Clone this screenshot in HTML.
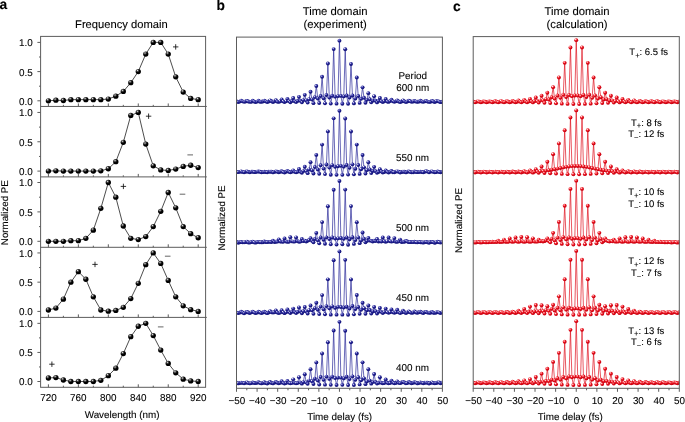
<!DOCTYPE html>
<html><head><meta charset="utf-8"><style>
html,body{margin:0;padding:0;background:#fff;width:685px;height:422px;overflow:hidden}
svg{display:block;font-family:"Liberation Sans", sans-serif;fill:#000;will-change:transform;text-rendering:geometricPrecision}
text{-webkit-font-smoothing:antialiased;stroke:#000;stroke-width:0.1px;paint-order:stroke}
</style></head><body>
<svg width="685" height="422" viewBox="0 0 685 422">
<rect width="685" height="422" fill="#fff"/>
<defs>
<radialGradient id="gk" cx="0.38" cy="0.32" r="0.62" fx="0.35" fy="0.28">
 <stop offset="0" stop-color="#e6e6e6"/><stop offset="0.28" stop-color="#505050"/><stop offset="0.6" stop-color="#000"/><stop offset="1" stop-color="#000"/>
</radialGradient>
<radialGradient id="gb" cx="0.4" cy="0.35" r="0.6" fx="0.35" fy="0.3">
 <stop offset="0" stop-color="#ffffff"/><stop offset="0.25" stop-color="#6e6ec8"/><stop offset="0.55" stop-color="#20208f"/><stop offset="1" stop-color="#14147a"/>
</radialGradient>
<radialGradient id="gr" cx="0.4" cy="0.35" r="0.6" fx="0.35" fy="0.3">
 <stop offset="0" stop-color="#ffffff"/><stop offset="0.25" stop-color="#ff7a80"/><stop offset="0.55" stop-color="#e4101c"/><stop offset="1" stop-color="#c80010"/>
</radialGradient>
<clipPath id="cb"><rect x="236.5" y="37.1" width="205.9" height="351.2"/></clipPath>
<clipPath id="cc"><rect x="473.2" y="36.6" width="206.1" height="351.7"/></clipPath>
</defs><text x="-0.6" y="8.9" font-size="13.8" text-anchor="start" font-weight="bold" >a</text><text x="216.6" y="9.6" font-size="13.8" text-anchor="start" font-weight="bold" >b</text><text x="453" y="10.8" font-size="13.8" text-anchor="start" font-weight="bold" >c</text><text x="121.4" y="28.2" font-size="11.2" text-anchor="middle" font-weight="normal" >Frequency domain</text><text x="335.1" y="15.1" font-size="11.3" text-anchor="middle" font-weight="normal" >Time domain</text><text x="335.1" y="27.7" font-size="11.3" text-anchor="middle" font-weight="normal" >(experiment)</text><text x="577" y="15.1" font-size="11.3" text-anchor="middle" font-weight="normal" >Time domain</text><text x="577" y="27.7" font-size="11.3" text-anchor="middle" font-weight="normal" >(calculation)</text><text x="32.8" y="46.3" font-size="9.9" text-anchor="end" font-weight="normal" >1.0</text><text x="32.8" y="75.5" font-size="9.9" text-anchor="end" font-weight="normal" >0.5</text><text x="32.8" y="104.7" font-size="9.9" text-anchor="end" font-weight="normal" >0.0</text><polyline fill="none" stroke="#111" stroke-width="0.75" points="48.4,100.8 55.89,100.22 63.38,100.51 70.87,99.63 78.36,99.63 85.85,99.63 93.34,99.63 100.83,99.63 108.32,99.05 115.81,96.13 123.3,91.46 130.79,82.7 138.28,71.6 145.77,54.08 153.26,42.4 160.75,42.4 168.24,54.08 175.73,76.86 183.22,92.04 190.71,98.46 198.2,99.63"/><circle cx="48.4" cy="100.8" r="2.65" fill="url(#gk)"/><circle cx="55.89" cy="100.22" r="2.65" fill="url(#gk)"/><circle cx="63.38" cy="100.51" r="2.65" fill="url(#gk)"/><circle cx="70.87" cy="99.63" r="2.65" fill="url(#gk)"/><circle cx="78.36" cy="99.63" r="2.65" fill="url(#gk)"/><circle cx="85.85" cy="99.63" r="2.65" fill="url(#gk)"/><circle cx="93.34" cy="99.63" r="2.65" fill="url(#gk)"/><circle cx="100.83" cy="99.63" r="2.65" fill="url(#gk)"/><circle cx="108.32" cy="99.05" r="2.65" fill="url(#gk)"/><circle cx="115.81" cy="96.13" r="2.65" fill="url(#gk)"/><circle cx="123.3" cy="91.46" r="2.65" fill="url(#gk)"/><circle cx="130.79" cy="82.7" r="2.65" fill="url(#gk)"/><circle cx="138.28" cy="71.6" r="2.65" fill="url(#gk)"/><circle cx="145.77" cy="54.08" r="2.65" fill="url(#gk)"/><circle cx="153.26" cy="42.4" r="2.65" fill="url(#gk)"/><circle cx="160.75" cy="42.4" r="2.65" fill="url(#gk)"/><circle cx="168.24" cy="54.08" r="2.65" fill="url(#gk)"/><circle cx="175.73" cy="76.86" r="2.65" fill="url(#gk)"/><circle cx="183.22" cy="92.04" r="2.65" fill="url(#gk)"/><circle cx="190.71" cy="98.46" r="2.65" fill="url(#gk)"/><circle cx="198.2" cy="99.63" r="2.65" fill="url(#gk)"/><text x="32.8" y="116.35" font-size="9.9" text-anchor="end" font-weight="normal" >1.0</text><text x="32.8" y="145.68" font-size="9.9" text-anchor="end" font-weight="normal" >0.5</text><text x="32.8" y="175" font-size="9.9" text-anchor="end" font-weight="normal" >0.0</text><polyline fill="none" stroke="#111" stroke-width="0.75" points="48.4,171.1 55.89,170.81 63.38,171.1 70.87,171.1 78.36,171.1 85.85,171.1 93.34,171.1 100.83,170.81 108.32,168.75 115.81,161.72 123.3,142.36 130.79,115.38 138.28,112.45 145.77,144.12 153.26,165.82 160.75,169.93 168.24,170.51 175.73,169.05 183.22,166.41 190.71,165.23 198.2,167.58"/><circle cx="48.4" cy="171.1" r="2.65" fill="url(#gk)"/><circle cx="55.89" cy="170.81" r="2.65" fill="url(#gk)"/><circle cx="63.38" cy="171.1" r="2.65" fill="url(#gk)"/><circle cx="70.87" cy="171.1" r="2.65" fill="url(#gk)"/><circle cx="78.36" cy="171.1" r="2.65" fill="url(#gk)"/><circle cx="85.85" cy="171.1" r="2.65" fill="url(#gk)"/><circle cx="93.34" cy="171.1" r="2.65" fill="url(#gk)"/><circle cx="100.83" cy="170.81" r="2.65" fill="url(#gk)"/><circle cx="108.32" cy="168.75" r="2.65" fill="url(#gk)"/><circle cx="115.81" cy="161.72" r="2.65" fill="url(#gk)"/><circle cx="123.3" cy="142.36" r="2.65" fill="url(#gk)"/><circle cx="130.79" cy="115.38" r="2.65" fill="url(#gk)"/><circle cx="138.28" cy="112.45" r="2.65" fill="url(#gk)"/><circle cx="145.77" cy="144.12" r="2.65" fill="url(#gk)"/><circle cx="153.26" cy="165.82" r="2.65" fill="url(#gk)"/><circle cx="160.75" cy="169.93" r="2.65" fill="url(#gk)"/><circle cx="168.24" cy="170.51" r="2.65" fill="url(#gk)"/><circle cx="175.73" cy="169.05" r="2.65" fill="url(#gk)"/><circle cx="183.22" cy="166.41" r="2.65" fill="url(#gk)"/><circle cx="190.71" cy="165.23" r="2.65" fill="url(#gk)"/><circle cx="198.2" cy="167.58" r="2.65" fill="url(#gk)"/><text x="32.8" y="186.4" font-size="9.9" text-anchor="end" font-weight="normal" >1.0</text><text x="32.8" y="215.8" font-size="9.9" text-anchor="end" font-weight="normal" >0.5</text><text x="32.8" y="245.2" font-size="9.9" text-anchor="end" font-weight="normal" >0.0</text><polyline fill="none" stroke="#111" stroke-width="0.75" points="48.4,241.3 55.89,241.3 63.38,241.3 70.87,240.71 78.36,240.71 85.85,238.36 93.34,230.13 100.83,208.37 108.32,182.5 115.81,197.2 123.3,226.01 130.79,238.36 138.28,239.54 145.77,236.6 153.26,226.6 160.75,211.31 168.24,192.5 175.73,207.78 183.22,226.6 190.71,233.66 198.2,237.77"/><circle cx="48.4" cy="241.3" r="2.65" fill="url(#gk)"/><circle cx="55.89" cy="241.3" r="2.65" fill="url(#gk)"/><circle cx="63.38" cy="241.3" r="2.65" fill="url(#gk)"/><circle cx="70.87" cy="240.71" r="2.65" fill="url(#gk)"/><circle cx="78.36" cy="240.71" r="2.65" fill="url(#gk)"/><circle cx="85.85" cy="238.36" r="2.65" fill="url(#gk)"/><circle cx="93.34" cy="230.13" r="2.65" fill="url(#gk)"/><circle cx="100.83" cy="208.37" r="2.65" fill="url(#gk)"/><circle cx="108.32" cy="182.5" r="2.65" fill="url(#gk)"/><circle cx="115.81" cy="197.2" r="2.65" fill="url(#gk)"/><circle cx="123.3" cy="226.01" r="2.65" fill="url(#gk)"/><circle cx="130.79" cy="238.36" r="2.65" fill="url(#gk)"/><circle cx="138.28" cy="239.54" r="2.65" fill="url(#gk)"/><circle cx="145.77" cy="236.6" r="2.65" fill="url(#gk)"/><circle cx="153.26" cy="226.6" r="2.65" fill="url(#gk)"/><circle cx="160.75" cy="211.31" r="2.65" fill="url(#gk)"/><circle cx="168.24" cy="192.5" r="2.65" fill="url(#gk)"/><circle cx="175.73" cy="207.78" r="2.65" fill="url(#gk)"/><circle cx="183.22" cy="226.6" r="2.65" fill="url(#gk)"/><circle cx="190.71" cy="233.66" r="2.65" fill="url(#gk)"/><circle cx="198.2" cy="237.77" r="2.65" fill="url(#gk)"/><text x="32.8" y="256.85" font-size="9.9" text-anchor="end" font-weight="normal" >1.0</text><text x="32.8" y="286.07" font-size="9.9" text-anchor="end" font-weight="normal" >0.5</text><text x="32.8" y="315.3" font-size="9.9" text-anchor="end" font-weight="normal" >0.0</text><polyline fill="none" stroke="#111" stroke-width="0.75" points="48.4,310 55.89,308.07 63.38,299.13 70.87,282.17 78.36,271.65 85.85,279.25 93.34,296.79 100.83,310 108.32,311.22 115.81,310.46 123.3,307.31 130.79,298.54 138.28,283.34 145.77,264.64 153.26,252.95 160.75,263.47 168.24,280.42 175.73,296.79 183.22,305.85 190.71,309.65 198.2,311.4"/><circle cx="48.4" cy="310" r="2.65" fill="url(#gk)"/><circle cx="55.89" cy="308.07" r="2.65" fill="url(#gk)"/><circle cx="63.38" cy="299.13" r="2.65" fill="url(#gk)"/><circle cx="70.87" cy="282.17" r="2.65" fill="url(#gk)"/><circle cx="78.36" cy="271.65" r="2.65" fill="url(#gk)"/><circle cx="85.85" cy="279.25" r="2.65" fill="url(#gk)"/><circle cx="93.34" cy="296.79" r="2.65" fill="url(#gk)"/><circle cx="100.83" cy="310" r="2.65" fill="url(#gk)"/><circle cx="108.32" cy="311.22" r="2.65" fill="url(#gk)"/><circle cx="115.81" cy="310.46" r="2.65" fill="url(#gk)"/><circle cx="123.3" cy="307.31" r="2.65" fill="url(#gk)"/><circle cx="130.79" cy="298.54" r="2.65" fill="url(#gk)"/><circle cx="138.28" cy="283.34" r="2.65" fill="url(#gk)"/><circle cx="145.77" cy="264.64" r="2.65" fill="url(#gk)"/><circle cx="153.26" cy="252.95" r="2.65" fill="url(#gk)"/><circle cx="160.75" cy="263.47" r="2.65" fill="url(#gk)"/><circle cx="168.24" cy="280.42" r="2.65" fill="url(#gk)"/><circle cx="175.73" cy="296.79" r="2.65" fill="url(#gk)"/><circle cx="183.22" cy="305.85" r="2.65" fill="url(#gk)"/><circle cx="190.71" cy="309.65" r="2.65" fill="url(#gk)"/><circle cx="198.2" cy="311.4" r="2.65" fill="url(#gk)"/><text x="32.8" y="327.25" font-size="9.9" text-anchor="end" font-weight="normal" >1.0</text><text x="32.8" y="356.32" font-size="9.9" text-anchor="end" font-weight="normal" >0.5</text><text x="32.8" y="385.4" font-size="9.9" text-anchor="end" font-weight="normal" >0.0</text><polyline fill="none" stroke="#111" stroke-width="0.75" points="48.4,378.01 55.89,377.55 63.38,379.99 70.87,381.5 78.36,381.5 85.85,381.5 93.34,381.5 100.83,380.34 108.32,375.69 115.81,368.13 123.3,353.59 130.79,336.72 138.28,326.26 145.77,323.35 153.26,335.56 160.75,350.1 168.24,363.47 175.73,372.78 183.22,379.17 190.71,380.92 198.2,381.5"/><circle cx="48.4" cy="378.01" r="2.65" fill="url(#gk)"/><circle cx="55.89" cy="377.55" r="2.65" fill="url(#gk)"/><circle cx="63.38" cy="379.99" r="2.65" fill="url(#gk)"/><circle cx="70.87" cy="381.5" r="2.65" fill="url(#gk)"/><circle cx="78.36" cy="381.5" r="2.65" fill="url(#gk)"/><circle cx="85.85" cy="381.5" r="2.65" fill="url(#gk)"/><circle cx="93.34" cy="381.5" r="2.65" fill="url(#gk)"/><circle cx="100.83" cy="380.34" r="2.65" fill="url(#gk)"/><circle cx="108.32" cy="375.69" r="2.65" fill="url(#gk)"/><circle cx="115.81" cy="368.13" r="2.65" fill="url(#gk)"/><circle cx="123.3" cy="353.59" r="2.65" fill="url(#gk)"/><circle cx="130.79" cy="336.72" r="2.65" fill="url(#gk)"/><circle cx="138.28" cy="326.26" r="2.65" fill="url(#gk)"/><circle cx="145.77" cy="323.35" r="2.65" fill="url(#gk)"/><circle cx="153.26" cy="335.56" r="2.65" fill="url(#gk)"/><circle cx="160.75" cy="350.1" r="2.65" fill="url(#gk)"/><circle cx="168.24" cy="363.47" r="2.65" fill="url(#gk)"/><circle cx="175.73" cy="372.78" r="2.65" fill="url(#gk)"/><circle cx="183.22" cy="379.17" r="2.65" fill="url(#gk)"/><circle cx="190.71" cy="380.92" r="2.65" fill="url(#gk)"/><circle cx="198.2" cy="381.5" r="2.65" fill="url(#gk)"/><text x="48.4" y="400.55" font-size="9.9" text-anchor="middle" font-weight="normal" >720</text><text x="78.36" y="400.55" font-size="9.9" text-anchor="middle" font-weight="normal" >760</text><text x="108.32" y="400.55" font-size="9.9" text-anchor="middle" font-weight="normal" >800</text><text x="138.28" y="400.55" font-size="9.9" text-anchor="middle" font-weight="normal" >840</text><text x="168.24" y="400.55" font-size="9.9" text-anchor="middle" font-weight="normal" >880</text><text x="198.2" y="400.55" font-size="9.9" text-anchor="middle" font-weight="normal" >920</text><text x="122.1" y="417.9" font-size="9.9" text-anchor="middle" font-weight="normal" >Wavelength (nm)</text><text x="0" y="0" font-size="9.75" text-anchor="middle" font-weight="normal" transform="translate(7.9 212.65) rotate(-90)">Normalized PE</text><g stroke="#5c5c5c" stroke-width="1" fill="none"><path d="M37.4 42.4H40.6"/><path d="M39 57H40.6"/><path d="M37.4 71.6H40.6"/><path d="M39 86.2H40.6"/><path d="M37.4 100.8H40.6"/><path d="M48.4 106.45V103.45"/><path d="M63.38 106.45V104.85"/><path d="M78.36 106.45V103.45"/><path d="M93.34 106.45V104.85"/><path d="M108.32 106.45V103.45"/><path d="M123.3 106.45V104.85"/><path d="M138.28 106.45V103.45"/><path d="M153.26 106.45V104.85"/><path d="M168.24 106.45V103.45"/><path d="M183.22 106.45V104.85"/><path d="M198.2 106.45V103.45"/><path d="M173 46.9H178.4M175.7 44.2V49.6" stroke="#111" stroke-width="0.85"/><path d="M37.4 112.45H40.6"/><path d="M39 127.11H40.6"/><path d="M37.4 141.78H40.6"/><path d="M39 156.44H40.6"/><path d="M37.4 171.1H40.6"/><path d="M48.4 176.9V173.9"/><path d="M63.38 176.9V175.3"/><path d="M78.36 176.9V173.9"/><path d="M93.34 176.9V175.3"/><path d="M108.32 176.9V173.9"/><path d="M123.3 176.9V175.3"/><path d="M138.28 176.9V173.9"/><path d="M153.26 176.9V175.3"/><path d="M168.24 176.9V173.9"/><path d="M183.22 176.9V175.3"/><path d="M198.2 176.9V173.9"/><path d="M145.9 116.2H151.3M148.6 113.5V118.9" stroke="#111" stroke-width="0.85"/><path d="M187.4 154.9H193" stroke="#555" stroke-width="0.9"/><path d="M37.4 182.5H40.6"/><path d="M39 197.2H40.6"/><path d="M37.4 211.9H40.6"/><path d="M39 226.6H40.6"/><path d="M37.4 241.3H40.6"/><path d="M48.4 247.3V244.3"/><path d="M63.38 247.3V245.7"/><path d="M78.36 247.3V244.3"/><path d="M93.34 247.3V245.7"/><path d="M108.32 247.3V244.3"/><path d="M123.3 247.3V245.7"/><path d="M138.28 247.3V244.3"/><path d="M153.26 247.3V245.7"/><path d="M168.24 247.3V244.3"/><path d="M183.22 247.3V245.7"/><path d="M198.2 247.3V244.3"/><path d="M120.7 186.4H126.1M123.4 183.7V189.1" stroke="#111" stroke-width="0.85"/><path d="M179.7 194.2H185.3" stroke="#555" stroke-width="0.9"/><path d="M37.4 252.95H40.6"/><path d="M39 267.56H40.6"/><path d="M37.4 282.17H40.6"/><path d="M39 296.79H40.6"/><path d="M37.4 311.4H40.6"/><path d="M48.4 317.4V314.4"/><path d="M63.38 317.4V315.8"/><path d="M78.36 317.4V314.4"/><path d="M93.34 317.4V315.8"/><path d="M108.32 317.4V314.4"/><path d="M123.3 317.4V315.8"/><path d="M138.28 317.4V314.4"/><path d="M153.26 317.4V315.8"/><path d="M168.24 317.4V314.4"/><path d="M183.22 317.4V315.8"/><path d="M198.2 317.4V314.4"/><path d="M92.3 264.4H97.7M95 261.7V267.1" stroke="#111" stroke-width="0.85"/><path d="M164.9 256.2H170.5" stroke="#555" stroke-width="0.9"/><path d="M37.4 323.35H40.6"/><path d="M39 337.89H40.6"/><path d="M37.4 352.43H40.6"/><path d="M39 366.96H40.6"/><path d="M37.4 381.5H40.6"/><path d="M48.4 387.3V384.3"/><path d="M63.38 387.3V385.7"/><path d="M78.36 387.3V384.3"/><path d="M93.34 387.3V385.7"/><path d="M108.32 387.3V384.3"/><path d="M123.3 387.3V385.7"/><path d="M138.28 387.3V384.3"/><path d="M153.26 387.3V385.7"/><path d="M168.24 387.3V384.3"/><path d="M183.22 387.3V385.7"/><path d="M198.2 387.3V384.3"/><path d="M49.2 364.2H54.6M51.9 361.5V366.9" stroke="#111" stroke-width="0.85"/><path d="M157.9 326.9H163.5" stroke="#555" stroke-width="0.9"/><rect x="40.6" y="36.4" width="165" height="350.9" fill="none"/><path d="M40.6 106.45H206.8"/><path d="M40.6 176.9H206.8"/><path d="M40.6 247.3H206.8"/><path d="M40.6 317.4H206.8"/></g><text x="236.9" y="404.3" font-size="9.9" text-anchor="middle" font-weight="normal" >−50</text><text x="257.49" y="404.3" font-size="9.9" text-anchor="middle" font-weight="normal" >−40</text><text x="278.08" y="404.3" font-size="9.9" text-anchor="middle" font-weight="normal" >−30</text><text x="298.67" y="404.3" font-size="9.9" text-anchor="middle" font-weight="normal" >−20</text><text x="319.26" y="404.3" font-size="9.9" text-anchor="middle" font-weight="normal" >−10</text><text x="339.75" y="404.3" font-size="9.9" text-anchor="middle" font-weight="normal" >0</text><text x="360.34" y="404.3" font-size="9.9" text-anchor="middle" font-weight="normal" >10</text><text x="380.93" y="404.3" font-size="9.9" text-anchor="middle" font-weight="normal" >20</text><text x="401.52" y="404.3" font-size="9.9" text-anchor="middle" font-weight="normal" >30</text><text x="422.11" y="404.3" font-size="9.9" text-anchor="middle" font-weight="normal" >40</text><text x="442.7" y="404.3" font-size="9.9" text-anchor="middle" font-weight="normal" >50</text><g clip-path="url(#cb)"><polyline fill="none" stroke="#2a2a9a" stroke-width="0.7" points="231.07,101.33 232.52,101.84 233.96,101.58 235.41,101.25 236.85,101.5 238.3,101.99 239.75,101.62 241.19,100.73 242.63,101.33 244.08,101.87 245.52,101.51 246.97,101 248.41,101.43 249.86,101.87 251.3,101.77 252.75,100.8 254.19,101.66 255.64,101.94 257.08,101.6 258.53,100.7 259.97,101.81 261.42,101.73 262.87,101.52 264.31,100.65 265.75,101.4 267.2,102 268.64,101.49 270.09,100.36 271.53,101.3 272.98,101.97 274.42,101.37 275.87,100.29 277.31,101.66 278.76,101.89 280.2,101.33 281.65,99.39 283.09,101.39 284.54,102.03 285.99,101.33 287.43,98.87 288.88,101.12 290.32,102.31 291.76,101.07 293.21,98.04 294.65,101.24 296.1,102.11 297.54,101.01 298.99,96.86 300.44,100.8 301.88,102.35 303.32,100.11 304.77,94.84 306.21,100.43 307.66,102.62 309.1,99.17 310.55,91.79 312,99.56 313.44,103.13 314.88,97.12 316.33,86.06 317.77,98.51 319.22,102.99 320.66,96.02 322.11,76.78 323.56,98.22 325,103.37 326.44,94.98 327.89,63.56 329.33,97.54 330.78,103.62 332.22,95.77 333.67,49.08 335.12,96.66 336.56,103.63 338,96.08 339.45,40.65 340.89,95.92 342.34,103.73 343.78,96.39 345.23,49.18 346.68,95.55 348.12,103.71 349.56,97.51 351.01,63.94 352.45,95.47 353.9,103.42 355.34,98.43 356.79,77.56 358.24,95.95 359.68,102.89 361.12,98.81 362.57,87.34 364.01,97.81 365.46,102.73 366.9,99.85 368.35,93.15 369.8,99.32 371.24,102.37 372.69,100.67 374.13,96.25 375.57,100.71 377.02,102.4 378.46,100.92 379.91,98.04 381.36,101.2 382.8,102.08 384.25,101.21 385.69,98.99 387.13,101.56 388.58,101.88 390.02,101.11 391.47,99.81 392.91,101.36 394.36,101.86 395.81,101.35 397.25,100.55 398.69,101.52 400.14,102.08 401.58,101.46 403.03,100.37 404.48,101.38 405.92,102.12 407.37,101.5 408.81,100.72 410.25,101.3 411.7,101.83 413.14,101.52 414.59,101 416.03,101.65 417.48,101.69 418.93,101.63 420.37,100.81 421.81,101.54 423.26,101.86 424.7,101.41 426.15,100.93 427.6,101.61 429.04,101.92 430.49,101.75 431.93,100.92 433.38,101.49 434.82,101.93 436.26,101.3 437.71,101.14 439.15,101.63 440.6,102.14 442.04,101.9 443.49,101.11 444.94,101.48 446.38,101.84 447.82,101.51"/><circle cx="231.07" cy="101.33" r="1.95" fill="url(#gb)"/><circle cx="232.52" cy="101.84" r="1.95" fill="url(#gb)"/><circle cx="233.96" cy="101.58" r="1.95" fill="url(#gb)"/><circle cx="235.41" cy="101.25" r="1.95" fill="url(#gb)"/><circle cx="236.85" cy="101.5" r="1.95" fill="url(#gb)"/><circle cx="238.3" cy="101.99" r="1.95" fill="url(#gb)"/><circle cx="239.75" cy="101.62" r="1.95" fill="url(#gb)"/><circle cx="241.19" cy="100.73" r="1.95" fill="url(#gb)"/><circle cx="242.63" cy="101.33" r="1.95" fill="url(#gb)"/><circle cx="244.08" cy="101.87" r="1.95" fill="url(#gb)"/><circle cx="245.52" cy="101.51" r="1.95" fill="url(#gb)"/><circle cx="246.97" cy="101" r="1.95" fill="url(#gb)"/><circle cx="248.41" cy="101.43" r="1.95" fill="url(#gb)"/><circle cx="249.86" cy="101.87" r="1.95" fill="url(#gb)"/><circle cx="251.3" cy="101.77" r="1.95" fill="url(#gb)"/><circle cx="252.75" cy="100.8" r="1.95" fill="url(#gb)"/><circle cx="254.19" cy="101.66" r="1.95" fill="url(#gb)"/><circle cx="255.64" cy="101.94" r="1.95" fill="url(#gb)"/><circle cx="257.08" cy="101.6" r="1.95" fill="url(#gb)"/><circle cx="258.53" cy="100.7" r="1.95" fill="url(#gb)"/><circle cx="259.97" cy="101.81" r="1.95" fill="url(#gb)"/><circle cx="261.42" cy="101.73" r="1.95" fill="url(#gb)"/><circle cx="262.87" cy="101.52" r="1.95" fill="url(#gb)"/><circle cx="264.31" cy="100.65" r="1.95" fill="url(#gb)"/><circle cx="265.75" cy="101.4" r="1.95" fill="url(#gb)"/><circle cx="267.2" cy="102" r="1.95" fill="url(#gb)"/><circle cx="268.64" cy="101.49" r="1.95" fill="url(#gb)"/><circle cx="270.09" cy="100.36" r="1.95" fill="url(#gb)"/><circle cx="271.53" cy="101.3" r="1.95" fill="url(#gb)"/><circle cx="272.98" cy="101.97" r="1.95" fill="url(#gb)"/><circle cx="274.42" cy="101.37" r="1.95" fill="url(#gb)"/><circle cx="275.87" cy="100.29" r="1.95" fill="url(#gb)"/><circle cx="277.31" cy="101.66" r="1.95" fill="url(#gb)"/><circle cx="278.76" cy="101.89" r="1.95" fill="url(#gb)"/><circle cx="280.2" cy="101.33" r="1.95" fill="url(#gb)"/><circle cx="281.65" cy="99.39" r="1.95" fill="url(#gb)"/><circle cx="283.09" cy="101.39" r="1.95" fill="url(#gb)"/><circle cx="284.54" cy="102.03" r="1.95" fill="url(#gb)"/><circle cx="285.99" cy="101.33" r="1.95" fill="url(#gb)"/><circle cx="287.43" cy="98.87" r="1.95" fill="url(#gb)"/><circle cx="288.88" cy="101.12" r="1.95" fill="url(#gb)"/><circle cx="290.32" cy="102.31" r="1.95" fill="url(#gb)"/><circle cx="291.76" cy="101.07" r="1.95" fill="url(#gb)"/><circle cx="293.21" cy="98.04" r="1.95" fill="url(#gb)"/><circle cx="294.65" cy="101.24" r="1.95" fill="url(#gb)"/><circle cx="296.1" cy="102.11" r="1.95" fill="url(#gb)"/><circle cx="297.54" cy="101.01" r="1.95" fill="url(#gb)"/><circle cx="298.99" cy="96.86" r="1.95" fill="url(#gb)"/><circle cx="300.44" cy="100.8" r="1.95" fill="url(#gb)"/><circle cx="301.88" cy="102.35" r="1.95" fill="url(#gb)"/><circle cx="303.32" cy="100.11" r="1.95" fill="url(#gb)"/><circle cx="304.77" cy="94.84" r="1.95" fill="url(#gb)"/><circle cx="306.21" cy="100.43" r="1.95" fill="url(#gb)"/><circle cx="307.66" cy="102.62" r="1.95" fill="url(#gb)"/><circle cx="309.1" cy="99.17" r="1.95" fill="url(#gb)"/><circle cx="310.55" cy="91.79" r="1.95" fill="url(#gb)"/><circle cx="312" cy="99.56" r="1.95" fill="url(#gb)"/><circle cx="313.44" cy="103.13" r="1.95" fill="url(#gb)"/><circle cx="314.88" cy="97.12" r="1.95" fill="url(#gb)"/><circle cx="316.33" cy="86.06" r="1.95" fill="url(#gb)"/><circle cx="317.77" cy="98.51" r="1.95" fill="url(#gb)"/><circle cx="319.22" cy="102.99" r="1.95" fill="url(#gb)"/><circle cx="320.66" cy="96.02" r="1.95" fill="url(#gb)"/><circle cx="322.11" cy="76.78" r="1.95" fill="url(#gb)"/><circle cx="323.56" cy="98.22" r="1.95" fill="url(#gb)"/><circle cx="325" cy="103.37" r="1.95" fill="url(#gb)"/><circle cx="326.44" cy="94.98" r="1.95" fill="url(#gb)"/><circle cx="327.89" cy="63.56" r="1.95" fill="url(#gb)"/><circle cx="329.33" cy="97.54" r="1.95" fill="url(#gb)"/><circle cx="330.78" cy="103.62" r="1.95" fill="url(#gb)"/><circle cx="332.22" cy="95.77" r="1.95" fill="url(#gb)"/><circle cx="333.67" cy="49.08" r="1.95" fill="url(#gb)"/><circle cx="335.12" cy="96.66" r="1.95" fill="url(#gb)"/><circle cx="336.56" cy="103.63" r="1.95" fill="url(#gb)"/><circle cx="338" cy="96.08" r="1.95" fill="url(#gb)"/><circle cx="339.45" cy="40.65" r="1.95" fill="url(#gb)"/><circle cx="340.89" cy="95.92" r="1.95" fill="url(#gb)"/><circle cx="342.34" cy="103.73" r="1.95" fill="url(#gb)"/><circle cx="343.78" cy="96.39" r="1.95" fill="url(#gb)"/><circle cx="345.23" cy="49.18" r="1.95" fill="url(#gb)"/><circle cx="346.68" cy="95.55" r="1.95" fill="url(#gb)"/><circle cx="348.12" cy="103.71" r="1.95" fill="url(#gb)"/><circle cx="349.56" cy="97.51" r="1.95" fill="url(#gb)"/><circle cx="351.01" cy="63.94" r="1.95" fill="url(#gb)"/><circle cx="352.45" cy="95.47" r="1.95" fill="url(#gb)"/><circle cx="353.9" cy="103.42" r="1.95" fill="url(#gb)"/><circle cx="355.34" cy="98.43" r="1.95" fill="url(#gb)"/><circle cx="356.79" cy="77.56" r="1.95" fill="url(#gb)"/><circle cx="358.24" cy="95.95" r="1.95" fill="url(#gb)"/><circle cx="359.68" cy="102.89" r="1.95" fill="url(#gb)"/><circle cx="361.12" cy="98.81" r="1.95" fill="url(#gb)"/><circle cx="362.57" cy="87.34" r="1.95" fill="url(#gb)"/><circle cx="364.01" cy="97.81" r="1.95" fill="url(#gb)"/><circle cx="365.46" cy="102.73" r="1.95" fill="url(#gb)"/><circle cx="366.9" cy="99.85" r="1.95" fill="url(#gb)"/><circle cx="368.35" cy="93.15" r="1.95" fill="url(#gb)"/><circle cx="369.8" cy="99.32" r="1.95" fill="url(#gb)"/><circle cx="371.24" cy="102.37" r="1.95" fill="url(#gb)"/><circle cx="372.69" cy="100.67" r="1.95" fill="url(#gb)"/><circle cx="374.13" cy="96.25" r="1.95" fill="url(#gb)"/><circle cx="375.57" cy="100.71" r="1.95" fill="url(#gb)"/><circle cx="377.02" cy="102.4" r="1.95" fill="url(#gb)"/><circle cx="378.46" cy="100.92" r="1.95" fill="url(#gb)"/><circle cx="379.91" cy="98.04" r="1.95" fill="url(#gb)"/><circle cx="381.36" cy="101.2" r="1.95" fill="url(#gb)"/><circle cx="382.8" cy="102.08" r="1.95" fill="url(#gb)"/><circle cx="384.25" cy="101.21" r="1.95" fill="url(#gb)"/><circle cx="385.69" cy="98.99" r="1.95" fill="url(#gb)"/><circle cx="387.13" cy="101.56" r="1.95" fill="url(#gb)"/><circle cx="388.58" cy="101.88" r="1.95" fill="url(#gb)"/><circle cx="390.02" cy="101.11" r="1.95" fill="url(#gb)"/><circle cx="391.47" cy="99.81" r="1.95" fill="url(#gb)"/><circle cx="392.91" cy="101.36" r="1.95" fill="url(#gb)"/><circle cx="394.36" cy="101.86" r="1.95" fill="url(#gb)"/><circle cx="395.81" cy="101.35" r="1.95" fill="url(#gb)"/><circle cx="397.25" cy="100.55" r="1.95" fill="url(#gb)"/><circle cx="398.69" cy="101.52" r="1.95" fill="url(#gb)"/><circle cx="400.14" cy="102.08" r="1.95" fill="url(#gb)"/><circle cx="401.58" cy="101.46" r="1.95" fill="url(#gb)"/><circle cx="403.03" cy="100.37" r="1.95" fill="url(#gb)"/><circle cx="404.48" cy="101.38" r="1.95" fill="url(#gb)"/><circle cx="405.92" cy="102.12" r="1.95" fill="url(#gb)"/><circle cx="407.37" cy="101.5" r="1.95" fill="url(#gb)"/><circle cx="408.81" cy="100.72" r="1.95" fill="url(#gb)"/><circle cx="410.25" cy="101.3" r="1.95" fill="url(#gb)"/><circle cx="411.7" cy="101.83" r="1.95" fill="url(#gb)"/><circle cx="413.14" cy="101.52" r="1.95" fill="url(#gb)"/><circle cx="414.59" cy="101" r="1.95" fill="url(#gb)"/><circle cx="416.03" cy="101.65" r="1.95" fill="url(#gb)"/><circle cx="417.48" cy="101.69" r="1.95" fill="url(#gb)"/><circle cx="418.93" cy="101.63" r="1.95" fill="url(#gb)"/><circle cx="420.37" cy="100.81" r="1.95" fill="url(#gb)"/><circle cx="421.81" cy="101.54" r="1.95" fill="url(#gb)"/><circle cx="423.26" cy="101.86" r="1.95" fill="url(#gb)"/><circle cx="424.7" cy="101.41" r="1.95" fill="url(#gb)"/><circle cx="426.15" cy="100.93" r="1.95" fill="url(#gb)"/><circle cx="427.6" cy="101.61" r="1.95" fill="url(#gb)"/><circle cx="429.04" cy="101.92" r="1.95" fill="url(#gb)"/><circle cx="430.49" cy="101.75" r="1.95" fill="url(#gb)"/><circle cx="431.93" cy="100.92" r="1.95" fill="url(#gb)"/><circle cx="433.38" cy="101.49" r="1.95" fill="url(#gb)"/><circle cx="434.82" cy="101.93" r="1.95" fill="url(#gb)"/><circle cx="436.26" cy="101.3" r="1.95" fill="url(#gb)"/><circle cx="437.71" cy="101.14" r="1.95" fill="url(#gb)"/><circle cx="439.15" cy="101.63" r="1.95" fill="url(#gb)"/><circle cx="440.6" cy="102.14" r="1.95" fill="url(#gb)"/><circle cx="442.04" cy="101.9" r="1.95" fill="url(#gb)"/><circle cx="443.49" cy="101.11" r="1.95" fill="url(#gb)"/><circle cx="444.94" cy="101.48" r="1.95" fill="url(#gb)"/><circle cx="446.38" cy="101.84" r="1.95" fill="url(#gb)"/><circle cx="447.82" cy="101.51" r="1.95" fill="url(#gb)"/><polyline fill="none" stroke="#2a2a9a" stroke-width="0.7" points="231.07,172.03 232.52,172.53 233.96,171.89 235.41,171.3 236.85,172.06 238.3,172.11 239.75,171.83 241.19,171.44 242.63,171.91 244.08,172.23 245.52,171.7 246.97,171.45 248.41,171.87 249.86,172.24 251.3,171.59 252.75,171.72 254.19,171.99 255.64,172.11 257.08,171.66 258.53,171.53 259.97,171.77 261.42,172.24 262.87,172.17 264.31,171.72 265.75,172.06 267.2,172.21 268.64,171.65 270.09,171.78 271.53,171.66 272.98,172.39 274.42,171.89 275.87,171.33 277.31,171.82 278.76,172.2 280.2,171.76 281.65,171.26 283.09,172.01 284.54,172.56 285.99,171.79 287.43,170.93 288.88,171.73 290.32,172.36 291.76,171.79 293.21,170.51 294.65,171.87 296.1,172.3 297.54,171.75 298.99,168.94 300.44,171.85 301.88,172.72 303.32,171.08 304.77,166.8 306.21,171.12 307.66,173.17 309.1,169.45 310.55,162.14 312,170.43 313.44,173.43 314.88,166.96 316.33,154.91 317.77,169.55 319.22,173.72 320.66,165.24 322.11,144.58 323.56,168.6 325,174.11 326.44,164.56 327.89,131.39 329.33,167.57 330.78,174.68 332.22,165.13 333.67,118.35 335.12,166.72 336.56,174.87 338,166.22 339.45,110.72 340.89,165.85 342.34,174.87 343.78,166.64 345.23,118.51 346.68,165.06 348.12,174.62 349.56,167.69 351.01,131.49 352.45,164.34 353.9,174.34 355.34,168.68 356.79,144.6 358.24,165.01 359.68,173.9 361.12,169.19 362.57,155.04 364.01,167.33 365.46,173.56 366.9,170.17 368.35,162.32 369.8,169.55 371.24,173.12 372.69,170.95 374.13,166.83 375.57,171.25 377.02,172.84 378.46,171.94 379.91,169.25 381.36,171.51 382.8,172.45 384.25,171.99 385.69,170.44 387.13,171.74 388.58,172.47 390.02,171.81 391.47,171.06 392.91,172.32 394.36,172.26 395.81,171.65 397.25,171.34 398.69,171.7 400.14,172.53 401.58,172.05 403.03,171.7 404.48,171.77 405.92,172.41 407.37,171.71 408.81,171.39 410.25,172.02 411.7,172.34 413.14,172.2 414.59,171.44 416.03,172.03 417.48,172.1 418.93,171.98 420.37,171.64 421.81,171.95 423.26,172.26 424.7,171.74 426.15,171.26 427.6,171.59 429.04,172.24 430.49,171.64 431.93,171.35 433.38,171.88 434.82,172.19 436.26,172.06 437.71,171.38 439.15,171.98 440.6,172.21 442.04,171.84 443.49,171.6 444.94,171.96 446.38,172.23 447.82,172.1"/><circle cx="231.07" cy="172.03" r="1.95" fill="url(#gb)"/><circle cx="232.52" cy="172.53" r="1.95" fill="url(#gb)"/><circle cx="233.96" cy="171.89" r="1.95" fill="url(#gb)"/><circle cx="235.41" cy="171.3" r="1.95" fill="url(#gb)"/><circle cx="236.85" cy="172.06" r="1.95" fill="url(#gb)"/><circle cx="238.3" cy="172.11" r="1.95" fill="url(#gb)"/><circle cx="239.75" cy="171.83" r="1.95" fill="url(#gb)"/><circle cx="241.19" cy="171.44" r="1.95" fill="url(#gb)"/><circle cx="242.63" cy="171.91" r="1.95" fill="url(#gb)"/><circle cx="244.08" cy="172.23" r="1.95" fill="url(#gb)"/><circle cx="245.52" cy="171.7" r="1.95" fill="url(#gb)"/><circle cx="246.97" cy="171.45" r="1.95" fill="url(#gb)"/><circle cx="248.41" cy="171.87" r="1.95" fill="url(#gb)"/><circle cx="249.86" cy="172.24" r="1.95" fill="url(#gb)"/><circle cx="251.3" cy="171.59" r="1.95" fill="url(#gb)"/><circle cx="252.75" cy="171.72" r="1.95" fill="url(#gb)"/><circle cx="254.19" cy="171.99" r="1.95" fill="url(#gb)"/><circle cx="255.64" cy="172.11" r="1.95" fill="url(#gb)"/><circle cx="257.08" cy="171.66" r="1.95" fill="url(#gb)"/><circle cx="258.53" cy="171.53" r="1.95" fill="url(#gb)"/><circle cx="259.97" cy="171.77" r="1.95" fill="url(#gb)"/><circle cx="261.42" cy="172.24" r="1.95" fill="url(#gb)"/><circle cx="262.87" cy="172.17" r="1.95" fill="url(#gb)"/><circle cx="264.31" cy="171.72" r="1.95" fill="url(#gb)"/><circle cx="265.75" cy="172.06" r="1.95" fill="url(#gb)"/><circle cx="267.2" cy="172.21" r="1.95" fill="url(#gb)"/><circle cx="268.64" cy="171.65" r="1.95" fill="url(#gb)"/><circle cx="270.09" cy="171.78" r="1.95" fill="url(#gb)"/><circle cx="271.53" cy="171.66" r="1.95" fill="url(#gb)"/><circle cx="272.98" cy="172.39" r="1.95" fill="url(#gb)"/><circle cx="274.42" cy="171.89" r="1.95" fill="url(#gb)"/><circle cx="275.87" cy="171.33" r="1.95" fill="url(#gb)"/><circle cx="277.31" cy="171.82" r="1.95" fill="url(#gb)"/><circle cx="278.76" cy="172.2" r="1.95" fill="url(#gb)"/><circle cx="280.2" cy="171.76" r="1.95" fill="url(#gb)"/><circle cx="281.65" cy="171.26" r="1.95" fill="url(#gb)"/><circle cx="283.09" cy="172.01" r="1.95" fill="url(#gb)"/><circle cx="284.54" cy="172.56" r="1.95" fill="url(#gb)"/><circle cx="285.99" cy="171.79" r="1.95" fill="url(#gb)"/><circle cx="287.43" cy="170.93" r="1.95" fill="url(#gb)"/><circle cx="288.88" cy="171.73" r="1.95" fill="url(#gb)"/><circle cx="290.32" cy="172.36" r="1.95" fill="url(#gb)"/><circle cx="291.76" cy="171.79" r="1.95" fill="url(#gb)"/><circle cx="293.21" cy="170.51" r="1.95" fill="url(#gb)"/><circle cx="294.65" cy="171.87" r="1.95" fill="url(#gb)"/><circle cx="296.1" cy="172.3" r="1.95" fill="url(#gb)"/><circle cx="297.54" cy="171.75" r="1.95" fill="url(#gb)"/><circle cx="298.99" cy="168.94" r="1.95" fill="url(#gb)"/><circle cx="300.44" cy="171.85" r="1.95" fill="url(#gb)"/><circle cx="301.88" cy="172.72" r="1.95" fill="url(#gb)"/><circle cx="303.32" cy="171.08" r="1.95" fill="url(#gb)"/><circle cx="304.77" cy="166.8" r="1.95" fill="url(#gb)"/><circle cx="306.21" cy="171.12" r="1.95" fill="url(#gb)"/><circle cx="307.66" cy="173.17" r="1.95" fill="url(#gb)"/><circle cx="309.1" cy="169.45" r="1.95" fill="url(#gb)"/><circle cx="310.55" cy="162.14" r="1.95" fill="url(#gb)"/><circle cx="312" cy="170.43" r="1.95" fill="url(#gb)"/><circle cx="313.44" cy="173.43" r="1.95" fill="url(#gb)"/><circle cx="314.88" cy="166.96" r="1.95" fill="url(#gb)"/><circle cx="316.33" cy="154.91" r="1.95" fill="url(#gb)"/><circle cx="317.77" cy="169.55" r="1.95" fill="url(#gb)"/><circle cx="319.22" cy="173.72" r="1.95" fill="url(#gb)"/><circle cx="320.66" cy="165.24" r="1.95" fill="url(#gb)"/><circle cx="322.11" cy="144.58" r="1.95" fill="url(#gb)"/><circle cx="323.56" cy="168.6" r="1.95" fill="url(#gb)"/><circle cx="325" cy="174.11" r="1.95" fill="url(#gb)"/><circle cx="326.44" cy="164.56" r="1.95" fill="url(#gb)"/><circle cx="327.89" cy="131.39" r="1.95" fill="url(#gb)"/><circle cx="329.33" cy="167.57" r="1.95" fill="url(#gb)"/><circle cx="330.78" cy="174.68" r="1.95" fill="url(#gb)"/><circle cx="332.22" cy="165.13" r="1.95" fill="url(#gb)"/><circle cx="333.67" cy="118.35" r="1.95" fill="url(#gb)"/><circle cx="335.12" cy="166.72" r="1.95" fill="url(#gb)"/><circle cx="336.56" cy="174.87" r="1.95" fill="url(#gb)"/><circle cx="338" cy="166.22" r="1.95" fill="url(#gb)"/><circle cx="339.45" cy="110.72" r="1.95" fill="url(#gb)"/><circle cx="340.89" cy="165.85" r="1.95" fill="url(#gb)"/><circle cx="342.34" cy="174.87" r="1.95" fill="url(#gb)"/><circle cx="343.78" cy="166.64" r="1.95" fill="url(#gb)"/><circle cx="345.23" cy="118.51" r="1.95" fill="url(#gb)"/><circle cx="346.68" cy="165.06" r="1.95" fill="url(#gb)"/><circle cx="348.12" cy="174.62" r="1.95" fill="url(#gb)"/><circle cx="349.56" cy="167.69" r="1.95" fill="url(#gb)"/><circle cx="351.01" cy="131.49" r="1.95" fill="url(#gb)"/><circle cx="352.45" cy="164.34" r="1.95" fill="url(#gb)"/><circle cx="353.9" cy="174.34" r="1.95" fill="url(#gb)"/><circle cx="355.34" cy="168.68" r="1.95" fill="url(#gb)"/><circle cx="356.79" cy="144.6" r="1.95" fill="url(#gb)"/><circle cx="358.24" cy="165.01" r="1.95" fill="url(#gb)"/><circle cx="359.68" cy="173.9" r="1.95" fill="url(#gb)"/><circle cx="361.12" cy="169.19" r="1.95" fill="url(#gb)"/><circle cx="362.57" cy="155.04" r="1.95" fill="url(#gb)"/><circle cx="364.01" cy="167.33" r="1.95" fill="url(#gb)"/><circle cx="365.46" cy="173.56" r="1.95" fill="url(#gb)"/><circle cx="366.9" cy="170.17" r="1.95" fill="url(#gb)"/><circle cx="368.35" cy="162.32" r="1.95" fill="url(#gb)"/><circle cx="369.8" cy="169.55" r="1.95" fill="url(#gb)"/><circle cx="371.24" cy="173.12" r="1.95" fill="url(#gb)"/><circle cx="372.69" cy="170.95" r="1.95" fill="url(#gb)"/><circle cx="374.13" cy="166.83" r="1.95" fill="url(#gb)"/><circle cx="375.57" cy="171.25" r="1.95" fill="url(#gb)"/><circle cx="377.02" cy="172.84" r="1.95" fill="url(#gb)"/><circle cx="378.46" cy="171.94" r="1.95" fill="url(#gb)"/><circle cx="379.91" cy="169.25" r="1.95" fill="url(#gb)"/><circle cx="381.36" cy="171.51" r="1.95" fill="url(#gb)"/><circle cx="382.8" cy="172.45" r="1.95" fill="url(#gb)"/><circle cx="384.25" cy="171.99" r="1.95" fill="url(#gb)"/><circle cx="385.69" cy="170.44" r="1.95" fill="url(#gb)"/><circle cx="387.13" cy="171.74" r="1.95" fill="url(#gb)"/><circle cx="388.58" cy="172.47" r="1.95" fill="url(#gb)"/><circle cx="390.02" cy="171.81" r="1.95" fill="url(#gb)"/><circle cx="391.47" cy="171.06" r="1.95" fill="url(#gb)"/><circle cx="392.91" cy="172.32" r="1.95" fill="url(#gb)"/><circle cx="394.36" cy="172.26" r="1.95" fill="url(#gb)"/><circle cx="395.81" cy="171.65" r="1.95" fill="url(#gb)"/><circle cx="397.25" cy="171.34" r="1.95" fill="url(#gb)"/><circle cx="398.69" cy="171.7" r="1.95" fill="url(#gb)"/><circle cx="400.14" cy="172.53" r="1.95" fill="url(#gb)"/><circle cx="401.58" cy="172.05" r="1.95" fill="url(#gb)"/><circle cx="403.03" cy="171.7" r="1.95" fill="url(#gb)"/><circle cx="404.48" cy="171.77" r="1.95" fill="url(#gb)"/><circle cx="405.92" cy="172.41" r="1.95" fill="url(#gb)"/><circle cx="407.37" cy="171.71" r="1.95" fill="url(#gb)"/><circle cx="408.81" cy="171.39" r="1.95" fill="url(#gb)"/><circle cx="410.25" cy="172.02" r="1.95" fill="url(#gb)"/><circle cx="411.7" cy="172.34" r="1.95" fill="url(#gb)"/><circle cx="413.14" cy="172.2" r="1.95" fill="url(#gb)"/><circle cx="414.59" cy="171.44" r="1.95" fill="url(#gb)"/><circle cx="416.03" cy="172.03" r="1.95" fill="url(#gb)"/><circle cx="417.48" cy="172.1" r="1.95" fill="url(#gb)"/><circle cx="418.93" cy="171.98" r="1.95" fill="url(#gb)"/><circle cx="420.37" cy="171.64" r="1.95" fill="url(#gb)"/><circle cx="421.81" cy="171.95" r="1.95" fill="url(#gb)"/><circle cx="423.26" cy="172.26" r="1.95" fill="url(#gb)"/><circle cx="424.7" cy="171.74" r="1.95" fill="url(#gb)"/><circle cx="426.15" cy="171.26" r="1.95" fill="url(#gb)"/><circle cx="427.6" cy="171.59" r="1.95" fill="url(#gb)"/><circle cx="429.04" cy="172.24" r="1.95" fill="url(#gb)"/><circle cx="430.49" cy="171.64" r="1.95" fill="url(#gb)"/><circle cx="431.93" cy="171.35" r="1.95" fill="url(#gb)"/><circle cx="433.38" cy="171.88" r="1.95" fill="url(#gb)"/><circle cx="434.82" cy="172.19" r="1.95" fill="url(#gb)"/><circle cx="436.26" cy="172.06" r="1.95" fill="url(#gb)"/><circle cx="437.71" cy="171.38" r="1.95" fill="url(#gb)"/><circle cx="439.15" cy="171.98" r="1.95" fill="url(#gb)"/><circle cx="440.6" cy="172.21" r="1.95" fill="url(#gb)"/><circle cx="442.04" cy="171.84" r="1.95" fill="url(#gb)"/><circle cx="443.49" cy="171.6" r="1.95" fill="url(#gb)"/><circle cx="444.94" cy="171.96" r="1.95" fill="url(#gb)"/><circle cx="446.38" cy="172.23" r="1.95" fill="url(#gb)"/><circle cx="447.82" cy="172.1" r="1.95" fill="url(#gb)"/><polyline fill="none" stroke="#2a2a9a" stroke-width="0.7" points="231.07,242.27 232.52,242.71 233.96,242.24 235.41,241.92 236.85,242.03 238.3,242.76 239.75,242.18 241.19,241.99 242.63,242.33 244.08,242.37 245.52,242.15 246.97,241.63 248.41,242.49 249.86,242.61 251.3,242.05 252.75,241.68 254.19,242.38 255.64,242.67 257.08,241.98 258.53,241.86 259.97,242.35 261.42,242.31 262.87,242.31 264.31,241.52 265.75,242.06 267.2,242.11 268.64,241.84 270.09,241.92 271.53,242.07 272.98,240.8 274.42,242 275.87,241.71 277.31,241.67 278.76,239.37 280.2,241.43 281.65,241.63 283.09,241.76 284.54,238.4 285.99,241.55 287.43,241.81 288.88,241.72 290.32,237.28 291.76,241.36 293.21,241.62 294.65,241.61 296.1,237.43 297.54,241.13 298.99,241.68 300.44,241.62 301.88,238.91 303.32,241.17 304.77,240.65 306.21,241.48 307.66,240.69 309.1,240.11 310.55,238.32 312,240.68 313.44,242.25 314.88,238.94 316.33,232.89 317.77,240.34 319.22,243.21 320.66,237.47 322.11,222.09 323.56,239.73 325,243.69 326.44,237.37 327.89,206.25 329.33,239.07 330.78,244.31 332.22,237.56 333.67,189.8 335.12,238.43 336.56,244.62 338,238.41 339.45,180.98 340.89,237.96 342.34,244.2 343.78,238.69 345.23,189.61 346.68,237.45 348.12,244.7 349.56,239.19 351.01,206.12 352.45,237.24 353.9,243.89 355.34,240.11 356.79,222.14 358.24,237.42 359.68,243.16 361.12,240.45 362.57,232.51 364.01,238.76 365.46,242.36 366.9,240.92 368.35,238 369.8,240.61 371.24,240.84 372.69,241.55 374.13,240.77 375.57,241.12 377.02,239.07 378.46,241.49 379.91,241.26 381.36,241.47 382.8,237.55 384.25,241.3 385.69,241.76 387.13,241.34 388.58,237.5 390.02,241.21 391.47,241.6 392.91,241.36 394.36,238.11 395.81,241.68 397.25,241.86 398.69,241.38 400.14,239.59 401.58,241.97 403.03,241.73 404.48,241.82 405.92,241.01 407.37,241.56 408.81,242.14 410.25,242.04 411.7,241.96 413.14,242.06 414.59,241.77 416.03,242.27 417.48,242.33 418.93,241.98 420.37,242.19 421.81,242.22 423.26,242.63 424.7,242.17 426.15,241.91 427.6,242.2 429.04,242.7 430.49,242.02 431.93,241.95 433.38,242.16 434.82,242.9 436.26,242.17 437.71,241.82 439.15,242.27 440.6,242.52 442.04,242.35 443.49,241.73 444.94,242.1 446.38,242.66 447.82,242.09"/><circle cx="231.07" cy="242.27" r="1.95" fill="url(#gb)"/><circle cx="232.52" cy="242.71" r="1.95" fill="url(#gb)"/><circle cx="233.96" cy="242.24" r="1.95" fill="url(#gb)"/><circle cx="235.41" cy="241.92" r="1.95" fill="url(#gb)"/><circle cx="236.85" cy="242.03" r="1.95" fill="url(#gb)"/><circle cx="238.3" cy="242.76" r="1.95" fill="url(#gb)"/><circle cx="239.75" cy="242.18" r="1.95" fill="url(#gb)"/><circle cx="241.19" cy="241.99" r="1.95" fill="url(#gb)"/><circle cx="242.63" cy="242.33" r="1.95" fill="url(#gb)"/><circle cx="244.08" cy="242.37" r="1.95" fill="url(#gb)"/><circle cx="245.52" cy="242.15" r="1.95" fill="url(#gb)"/><circle cx="246.97" cy="241.63" r="1.95" fill="url(#gb)"/><circle cx="248.41" cy="242.49" r="1.95" fill="url(#gb)"/><circle cx="249.86" cy="242.61" r="1.95" fill="url(#gb)"/><circle cx="251.3" cy="242.05" r="1.95" fill="url(#gb)"/><circle cx="252.75" cy="241.68" r="1.95" fill="url(#gb)"/><circle cx="254.19" cy="242.38" r="1.95" fill="url(#gb)"/><circle cx="255.64" cy="242.67" r="1.95" fill="url(#gb)"/><circle cx="257.08" cy="241.98" r="1.95" fill="url(#gb)"/><circle cx="258.53" cy="241.86" r="1.95" fill="url(#gb)"/><circle cx="259.97" cy="242.35" r="1.95" fill="url(#gb)"/><circle cx="261.42" cy="242.31" r="1.95" fill="url(#gb)"/><circle cx="262.87" cy="242.31" r="1.95" fill="url(#gb)"/><circle cx="264.31" cy="241.52" r="1.95" fill="url(#gb)"/><circle cx="265.75" cy="242.06" r="1.95" fill="url(#gb)"/><circle cx="267.2" cy="242.11" r="1.95" fill="url(#gb)"/><circle cx="268.64" cy="241.84" r="1.95" fill="url(#gb)"/><circle cx="270.09" cy="241.92" r="1.95" fill="url(#gb)"/><circle cx="271.53" cy="242.07" r="1.95" fill="url(#gb)"/><circle cx="272.98" cy="240.8" r="1.95" fill="url(#gb)"/><circle cx="274.42" cy="242" r="1.95" fill="url(#gb)"/><circle cx="275.87" cy="241.71" r="1.95" fill="url(#gb)"/><circle cx="277.31" cy="241.67" r="1.95" fill="url(#gb)"/><circle cx="278.76" cy="239.37" r="1.95" fill="url(#gb)"/><circle cx="280.2" cy="241.43" r="1.95" fill="url(#gb)"/><circle cx="281.65" cy="241.63" r="1.95" fill="url(#gb)"/><circle cx="283.09" cy="241.76" r="1.95" fill="url(#gb)"/><circle cx="284.54" cy="238.4" r="1.95" fill="url(#gb)"/><circle cx="285.99" cy="241.55" r="1.95" fill="url(#gb)"/><circle cx="287.43" cy="241.81" r="1.95" fill="url(#gb)"/><circle cx="288.88" cy="241.72" r="1.95" fill="url(#gb)"/><circle cx="290.32" cy="237.28" r="1.95" fill="url(#gb)"/><circle cx="291.76" cy="241.36" r="1.95" fill="url(#gb)"/><circle cx="293.21" cy="241.62" r="1.95" fill="url(#gb)"/><circle cx="294.65" cy="241.61" r="1.95" fill="url(#gb)"/><circle cx="296.1" cy="237.43" r="1.95" fill="url(#gb)"/><circle cx="297.54" cy="241.13" r="1.95" fill="url(#gb)"/><circle cx="298.99" cy="241.68" r="1.95" fill="url(#gb)"/><circle cx="300.44" cy="241.62" r="1.95" fill="url(#gb)"/><circle cx="301.88" cy="238.91" r="1.95" fill="url(#gb)"/><circle cx="303.32" cy="241.17" r="1.95" fill="url(#gb)"/><circle cx="304.77" cy="240.65" r="1.95" fill="url(#gb)"/><circle cx="306.21" cy="241.48" r="1.95" fill="url(#gb)"/><circle cx="307.66" cy="240.69" r="1.95" fill="url(#gb)"/><circle cx="309.1" cy="240.11" r="1.95" fill="url(#gb)"/><circle cx="310.55" cy="238.32" r="1.95" fill="url(#gb)"/><circle cx="312" cy="240.68" r="1.95" fill="url(#gb)"/><circle cx="313.44" cy="242.25" r="1.95" fill="url(#gb)"/><circle cx="314.88" cy="238.94" r="1.95" fill="url(#gb)"/><circle cx="316.33" cy="232.89" r="1.95" fill="url(#gb)"/><circle cx="317.77" cy="240.34" r="1.95" fill="url(#gb)"/><circle cx="319.22" cy="243.21" r="1.95" fill="url(#gb)"/><circle cx="320.66" cy="237.47" r="1.95" fill="url(#gb)"/><circle cx="322.11" cy="222.09" r="1.95" fill="url(#gb)"/><circle cx="323.56" cy="239.73" r="1.95" fill="url(#gb)"/><circle cx="325" cy="243.69" r="1.95" fill="url(#gb)"/><circle cx="326.44" cy="237.37" r="1.95" fill="url(#gb)"/><circle cx="327.89" cy="206.25" r="1.95" fill="url(#gb)"/><circle cx="329.33" cy="239.07" r="1.95" fill="url(#gb)"/><circle cx="330.78" cy="244.31" r="1.95" fill="url(#gb)"/><circle cx="332.22" cy="237.56" r="1.95" fill="url(#gb)"/><circle cx="333.67" cy="189.8" r="1.95" fill="url(#gb)"/><circle cx="335.12" cy="238.43" r="1.95" fill="url(#gb)"/><circle cx="336.56" cy="244.62" r="1.95" fill="url(#gb)"/><circle cx="338" cy="238.41" r="1.95" fill="url(#gb)"/><circle cx="339.45" cy="180.98" r="1.95" fill="url(#gb)"/><circle cx="340.89" cy="237.96" r="1.95" fill="url(#gb)"/><circle cx="342.34" cy="244.2" r="1.95" fill="url(#gb)"/><circle cx="343.78" cy="238.69" r="1.95" fill="url(#gb)"/><circle cx="345.23" cy="189.61" r="1.95" fill="url(#gb)"/><circle cx="346.68" cy="237.45" r="1.95" fill="url(#gb)"/><circle cx="348.12" cy="244.7" r="1.95" fill="url(#gb)"/><circle cx="349.56" cy="239.19" r="1.95" fill="url(#gb)"/><circle cx="351.01" cy="206.12" r="1.95" fill="url(#gb)"/><circle cx="352.45" cy="237.24" r="1.95" fill="url(#gb)"/><circle cx="353.9" cy="243.89" r="1.95" fill="url(#gb)"/><circle cx="355.34" cy="240.11" r="1.95" fill="url(#gb)"/><circle cx="356.79" cy="222.14" r="1.95" fill="url(#gb)"/><circle cx="358.24" cy="237.42" r="1.95" fill="url(#gb)"/><circle cx="359.68" cy="243.16" r="1.95" fill="url(#gb)"/><circle cx="361.12" cy="240.45" r="1.95" fill="url(#gb)"/><circle cx="362.57" cy="232.51" r="1.95" fill="url(#gb)"/><circle cx="364.01" cy="238.76" r="1.95" fill="url(#gb)"/><circle cx="365.46" cy="242.36" r="1.95" fill="url(#gb)"/><circle cx="366.9" cy="240.92" r="1.95" fill="url(#gb)"/><circle cx="368.35" cy="238" r="1.95" fill="url(#gb)"/><circle cx="369.8" cy="240.61" r="1.95" fill="url(#gb)"/><circle cx="371.24" cy="240.84" r="1.95" fill="url(#gb)"/><circle cx="372.69" cy="241.55" r="1.95" fill="url(#gb)"/><circle cx="374.13" cy="240.77" r="1.95" fill="url(#gb)"/><circle cx="375.57" cy="241.12" r="1.95" fill="url(#gb)"/><circle cx="377.02" cy="239.07" r="1.95" fill="url(#gb)"/><circle cx="378.46" cy="241.49" r="1.95" fill="url(#gb)"/><circle cx="379.91" cy="241.26" r="1.95" fill="url(#gb)"/><circle cx="381.36" cy="241.47" r="1.95" fill="url(#gb)"/><circle cx="382.8" cy="237.55" r="1.95" fill="url(#gb)"/><circle cx="384.25" cy="241.3" r="1.95" fill="url(#gb)"/><circle cx="385.69" cy="241.76" r="1.95" fill="url(#gb)"/><circle cx="387.13" cy="241.34" r="1.95" fill="url(#gb)"/><circle cx="388.58" cy="237.5" r="1.95" fill="url(#gb)"/><circle cx="390.02" cy="241.21" r="1.95" fill="url(#gb)"/><circle cx="391.47" cy="241.6" r="1.95" fill="url(#gb)"/><circle cx="392.91" cy="241.36" r="1.95" fill="url(#gb)"/><circle cx="394.36" cy="238.11" r="1.95" fill="url(#gb)"/><circle cx="395.81" cy="241.68" r="1.95" fill="url(#gb)"/><circle cx="397.25" cy="241.86" r="1.95" fill="url(#gb)"/><circle cx="398.69" cy="241.38" r="1.95" fill="url(#gb)"/><circle cx="400.14" cy="239.59" r="1.95" fill="url(#gb)"/><circle cx="401.58" cy="241.97" r="1.95" fill="url(#gb)"/><circle cx="403.03" cy="241.73" r="1.95" fill="url(#gb)"/><circle cx="404.48" cy="241.82" r="1.95" fill="url(#gb)"/><circle cx="405.92" cy="241.01" r="1.95" fill="url(#gb)"/><circle cx="407.37" cy="241.56" r="1.95" fill="url(#gb)"/><circle cx="408.81" cy="242.14" r="1.95" fill="url(#gb)"/><circle cx="410.25" cy="242.04" r="1.95" fill="url(#gb)"/><circle cx="411.7" cy="241.96" r="1.95" fill="url(#gb)"/><circle cx="413.14" cy="242.06" r="1.95" fill="url(#gb)"/><circle cx="414.59" cy="241.77" r="1.95" fill="url(#gb)"/><circle cx="416.03" cy="242.27" r="1.95" fill="url(#gb)"/><circle cx="417.48" cy="242.33" r="1.95" fill="url(#gb)"/><circle cx="418.93" cy="241.98" r="1.95" fill="url(#gb)"/><circle cx="420.37" cy="242.19" r="1.95" fill="url(#gb)"/><circle cx="421.81" cy="242.22" r="1.95" fill="url(#gb)"/><circle cx="423.26" cy="242.63" r="1.95" fill="url(#gb)"/><circle cx="424.7" cy="242.17" r="1.95" fill="url(#gb)"/><circle cx="426.15" cy="241.91" r="1.95" fill="url(#gb)"/><circle cx="427.6" cy="242.2" r="1.95" fill="url(#gb)"/><circle cx="429.04" cy="242.7" r="1.95" fill="url(#gb)"/><circle cx="430.49" cy="242.02" r="1.95" fill="url(#gb)"/><circle cx="431.93" cy="241.95" r="1.95" fill="url(#gb)"/><circle cx="433.38" cy="242.16" r="1.95" fill="url(#gb)"/><circle cx="434.82" cy="242.9" r="1.95" fill="url(#gb)"/><circle cx="436.26" cy="242.17" r="1.95" fill="url(#gb)"/><circle cx="437.71" cy="241.82" r="1.95" fill="url(#gb)"/><circle cx="439.15" cy="242.27" r="1.95" fill="url(#gb)"/><circle cx="440.6" cy="242.52" r="1.95" fill="url(#gb)"/><circle cx="442.04" cy="242.35" r="1.95" fill="url(#gb)"/><circle cx="443.49" cy="241.73" r="1.95" fill="url(#gb)"/><circle cx="444.94" cy="242.1" r="1.95" fill="url(#gb)"/><circle cx="446.38" cy="242.66" r="1.95" fill="url(#gb)"/><circle cx="447.82" cy="242.09" r="1.95" fill="url(#gb)"/><polyline fill="none" stroke="#2a2a9a" stroke-width="0.7" points="231.07,312.47 232.52,312.85 233.96,312.38 235.41,312.13 236.85,312.62 238.3,313.01 239.75,312.63 241.19,311.81 242.63,312.47 244.08,313.33 245.52,312.48 246.97,311.99 248.41,312.44 249.86,312.98 251.3,312.35 252.75,311.79 254.19,312.6 255.64,313.06 257.08,312.67 258.53,311.77 259.97,312.43 261.42,313.08 262.87,312.49 264.31,311.76 265.75,312.53 267.2,313.13 268.64,312.5 270.09,311.15 271.53,312.35 272.98,312.57 274.42,312.23 275.87,310.51 277.31,312.45 278.76,313.05 280.2,312.58 281.65,310.23 283.09,312.36 284.54,313.13 285.99,312.28 287.43,309.44 288.88,311.92 290.32,313.08 291.76,311.88 293.21,308.6 294.65,311.99 296.1,313.12 297.54,311.97 298.99,307.5 300.44,311.38 301.88,313.22 303.32,311.28 304.77,307.02 306.21,311.42 307.66,313.46 309.1,310.19 310.55,305.41 312,310.35 313.44,313.84 314.88,308.16 316.33,302.69 317.77,309.69 319.22,314.05 320.66,306.59 322.11,295.09 323.56,309.28 325,314.3 326.44,306.11 327.89,279.34 329.33,308.27 330.78,314.67 332.22,306.38 333.67,260.21 335.12,307.88 336.56,314.67 338,306.83 339.45,251.42 340.89,307.04 342.34,314.64 343.78,307.54 345.23,259.85 346.68,306.73 348.12,314.7 349.56,308.53 351.01,279.41 352.45,305.97 353.9,314.33 355.34,308.95 356.79,295.05 358.24,306.94 359.68,313.84 361.12,309.76 362.57,302.76 364.01,308.23 365.46,313.78 366.9,310.29 368.35,305.5 369.8,310.05 371.24,313.5 372.69,311.46 374.13,306.88 375.57,311.24 377.02,313.53 378.46,311.87 379.91,307.91 381.36,311.88 382.8,313.05 384.25,312.08 385.69,308.61 387.13,312.15 388.58,312.82 390.02,312.22 391.47,309.4 392.91,312.28 394.36,312.83 395.81,312.29 397.25,309.8 398.69,312.34 400.14,313.12 401.58,312.39 403.03,310.74 404.48,312.27 405.92,313.02 407.37,312.37 408.81,311.36 410.25,312.4 411.7,312.9 413.14,312.44 414.59,311.39 416.03,312.44 417.48,312.77 418.93,312.31 420.37,311.68 421.81,312.5 423.26,313.05 424.7,312.2 426.15,311.91 427.6,312.61 429.04,312.77 430.49,312.72 431.93,311.84 433.38,312.77 434.82,312.91 436.26,312.46 437.71,312.16 439.15,312.61 440.6,313.04 442.04,312.35 443.49,311.97 444.94,312.86 446.38,313.09 447.82,312.59"/><circle cx="231.07" cy="312.47" r="1.95" fill="url(#gb)"/><circle cx="232.52" cy="312.85" r="1.95" fill="url(#gb)"/><circle cx="233.96" cy="312.38" r="1.95" fill="url(#gb)"/><circle cx="235.41" cy="312.13" r="1.95" fill="url(#gb)"/><circle cx="236.85" cy="312.62" r="1.95" fill="url(#gb)"/><circle cx="238.3" cy="313.01" r="1.95" fill="url(#gb)"/><circle cx="239.75" cy="312.63" r="1.95" fill="url(#gb)"/><circle cx="241.19" cy="311.81" r="1.95" fill="url(#gb)"/><circle cx="242.63" cy="312.47" r="1.95" fill="url(#gb)"/><circle cx="244.08" cy="313.33" r="1.95" fill="url(#gb)"/><circle cx="245.52" cy="312.48" r="1.95" fill="url(#gb)"/><circle cx="246.97" cy="311.99" r="1.95" fill="url(#gb)"/><circle cx="248.41" cy="312.44" r="1.95" fill="url(#gb)"/><circle cx="249.86" cy="312.98" r="1.95" fill="url(#gb)"/><circle cx="251.3" cy="312.35" r="1.95" fill="url(#gb)"/><circle cx="252.75" cy="311.79" r="1.95" fill="url(#gb)"/><circle cx="254.19" cy="312.6" r="1.95" fill="url(#gb)"/><circle cx="255.64" cy="313.06" r="1.95" fill="url(#gb)"/><circle cx="257.08" cy="312.67" r="1.95" fill="url(#gb)"/><circle cx="258.53" cy="311.77" r="1.95" fill="url(#gb)"/><circle cx="259.97" cy="312.43" r="1.95" fill="url(#gb)"/><circle cx="261.42" cy="313.08" r="1.95" fill="url(#gb)"/><circle cx="262.87" cy="312.49" r="1.95" fill="url(#gb)"/><circle cx="264.31" cy="311.76" r="1.95" fill="url(#gb)"/><circle cx="265.75" cy="312.53" r="1.95" fill="url(#gb)"/><circle cx="267.2" cy="313.13" r="1.95" fill="url(#gb)"/><circle cx="268.64" cy="312.5" r="1.95" fill="url(#gb)"/><circle cx="270.09" cy="311.15" r="1.95" fill="url(#gb)"/><circle cx="271.53" cy="312.35" r="1.95" fill="url(#gb)"/><circle cx="272.98" cy="312.57" r="1.95" fill="url(#gb)"/><circle cx="274.42" cy="312.23" r="1.95" fill="url(#gb)"/><circle cx="275.87" cy="310.51" r="1.95" fill="url(#gb)"/><circle cx="277.31" cy="312.45" r="1.95" fill="url(#gb)"/><circle cx="278.76" cy="313.05" r="1.95" fill="url(#gb)"/><circle cx="280.2" cy="312.58" r="1.95" fill="url(#gb)"/><circle cx="281.65" cy="310.23" r="1.95" fill="url(#gb)"/><circle cx="283.09" cy="312.36" r="1.95" fill="url(#gb)"/><circle cx="284.54" cy="313.13" r="1.95" fill="url(#gb)"/><circle cx="285.99" cy="312.28" r="1.95" fill="url(#gb)"/><circle cx="287.43" cy="309.44" r="1.95" fill="url(#gb)"/><circle cx="288.88" cy="311.92" r="1.95" fill="url(#gb)"/><circle cx="290.32" cy="313.08" r="1.95" fill="url(#gb)"/><circle cx="291.76" cy="311.88" r="1.95" fill="url(#gb)"/><circle cx="293.21" cy="308.6" r="1.95" fill="url(#gb)"/><circle cx="294.65" cy="311.99" r="1.95" fill="url(#gb)"/><circle cx="296.1" cy="313.12" r="1.95" fill="url(#gb)"/><circle cx="297.54" cy="311.97" r="1.95" fill="url(#gb)"/><circle cx="298.99" cy="307.5" r="1.95" fill="url(#gb)"/><circle cx="300.44" cy="311.38" r="1.95" fill="url(#gb)"/><circle cx="301.88" cy="313.22" r="1.95" fill="url(#gb)"/><circle cx="303.32" cy="311.28" r="1.95" fill="url(#gb)"/><circle cx="304.77" cy="307.02" r="1.95" fill="url(#gb)"/><circle cx="306.21" cy="311.42" r="1.95" fill="url(#gb)"/><circle cx="307.66" cy="313.46" r="1.95" fill="url(#gb)"/><circle cx="309.1" cy="310.19" r="1.95" fill="url(#gb)"/><circle cx="310.55" cy="305.41" r="1.95" fill="url(#gb)"/><circle cx="312" cy="310.35" r="1.95" fill="url(#gb)"/><circle cx="313.44" cy="313.84" r="1.95" fill="url(#gb)"/><circle cx="314.88" cy="308.16" r="1.95" fill="url(#gb)"/><circle cx="316.33" cy="302.69" r="1.95" fill="url(#gb)"/><circle cx="317.77" cy="309.69" r="1.95" fill="url(#gb)"/><circle cx="319.22" cy="314.05" r="1.95" fill="url(#gb)"/><circle cx="320.66" cy="306.59" r="1.95" fill="url(#gb)"/><circle cx="322.11" cy="295.09" r="1.95" fill="url(#gb)"/><circle cx="323.56" cy="309.28" r="1.95" fill="url(#gb)"/><circle cx="325" cy="314.3" r="1.95" fill="url(#gb)"/><circle cx="326.44" cy="306.11" r="1.95" fill="url(#gb)"/><circle cx="327.89" cy="279.34" r="1.95" fill="url(#gb)"/><circle cx="329.33" cy="308.27" r="1.95" fill="url(#gb)"/><circle cx="330.78" cy="314.67" r="1.95" fill="url(#gb)"/><circle cx="332.22" cy="306.38" r="1.95" fill="url(#gb)"/><circle cx="333.67" cy="260.21" r="1.95" fill="url(#gb)"/><circle cx="335.12" cy="307.88" r="1.95" fill="url(#gb)"/><circle cx="336.56" cy="314.67" r="1.95" fill="url(#gb)"/><circle cx="338" cy="306.83" r="1.95" fill="url(#gb)"/><circle cx="339.45" cy="251.42" r="1.95" fill="url(#gb)"/><circle cx="340.89" cy="307.04" r="1.95" fill="url(#gb)"/><circle cx="342.34" cy="314.64" r="1.95" fill="url(#gb)"/><circle cx="343.78" cy="307.54" r="1.95" fill="url(#gb)"/><circle cx="345.23" cy="259.85" r="1.95" fill="url(#gb)"/><circle cx="346.68" cy="306.73" r="1.95" fill="url(#gb)"/><circle cx="348.12" cy="314.7" r="1.95" fill="url(#gb)"/><circle cx="349.56" cy="308.53" r="1.95" fill="url(#gb)"/><circle cx="351.01" cy="279.41" r="1.95" fill="url(#gb)"/><circle cx="352.45" cy="305.97" r="1.95" fill="url(#gb)"/><circle cx="353.9" cy="314.33" r="1.95" fill="url(#gb)"/><circle cx="355.34" cy="308.95" r="1.95" fill="url(#gb)"/><circle cx="356.79" cy="295.05" r="1.95" fill="url(#gb)"/><circle cx="358.24" cy="306.94" r="1.95" fill="url(#gb)"/><circle cx="359.68" cy="313.84" r="1.95" fill="url(#gb)"/><circle cx="361.12" cy="309.76" r="1.95" fill="url(#gb)"/><circle cx="362.57" cy="302.76" r="1.95" fill="url(#gb)"/><circle cx="364.01" cy="308.23" r="1.95" fill="url(#gb)"/><circle cx="365.46" cy="313.78" r="1.95" fill="url(#gb)"/><circle cx="366.9" cy="310.29" r="1.95" fill="url(#gb)"/><circle cx="368.35" cy="305.5" r="1.95" fill="url(#gb)"/><circle cx="369.8" cy="310.05" r="1.95" fill="url(#gb)"/><circle cx="371.24" cy="313.5" r="1.95" fill="url(#gb)"/><circle cx="372.69" cy="311.46" r="1.95" fill="url(#gb)"/><circle cx="374.13" cy="306.88" r="1.95" fill="url(#gb)"/><circle cx="375.57" cy="311.24" r="1.95" fill="url(#gb)"/><circle cx="377.02" cy="313.53" r="1.95" fill="url(#gb)"/><circle cx="378.46" cy="311.87" r="1.95" fill="url(#gb)"/><circle cx="379.91" cy="307.91" r="1.95" fill="url(#gb)"/><circle cx="381.36" cy="311.88" r="1.95" fill="url(#gb)"/><circle cx="382.8" cy="313.05" r="1.95" fill="url(#gb)"/><circle cx="384.25" cy="312.08" r="1.95" fill="url(#gb)"/><circle cx="385.69" cy="308.61" r="1.95" fill="url(#gb)"/><circle cx="387.13" cy="312.15" r="1.95" fill="url(#gb)"/><circle cx="388.58" cy="312.82" r="1.95" fill="url(#gb)"/><circle cx="390.02" cy="312.22" r="1.95" fill="url(#gb)"/><circle cx="391.47" cy="309.4" r="1.95" fill="url(#gb)"/><circle cx="392.91" cy="312.28" r="1.95" fill="url(#gb)"/><circle cx="394.36" cy="312.83" r="1.95" fill="url(#gb)"/><circle cx="395.81" cy="312.29" r="1.95" fill="url(#gb)"/><circle cx="397.25" cy="309.8" r="1.95" fill="url(#gb)"/><circle cx="398.69" cy="312.34" r="1.95" fill="url(#gb)"/><circle cx="400.14" cy="313.12" r="1.95" fill="url(#gb)"/><circle cx="401.58" cy="312.39" r="1.95" fill="url(#gb)"/><circle cx="403.03" cy="310.74" r="1.95" fill="url(#gb)"/><circle cx="404.48" cy="312.27" r="1.95" fill="url(#gb)"/><circle cx="405.92" cy="313.02" r="1.95" fill="url(#gb)"/><circle cx="407.37" cy="312.37" r="1.95" fill="url(#gb)"/><circle cx="408.81" cy="311.36" r="1.95" fill="url(#gb)"/><circle cx="410.25" cy="312.4" r="1.95" fill="url(#gb)"/><circle cx="411.7" cy="312.9" r="1.95" fill="url(#gb)"/><circle cx="413.14" cy="312.44" r="1.95" fill="url(#gb)"/><circle cx="414.59" cy="311.39" r="1.95" fill="url(#gb)"/><circle cx="416.03" cy="312.44" r="1.95" fill="url(#gb)"/><circle cx="417.48" cy="312.77" r="1.95" fill="url(#gb)"/><circle cx="418.93" cy="312.31" r="1.95" fill="url(#gb)"/><circle cx="420.37" cy="311.68" r="1.95" fill="url(#gb)"/><circle cx="421.81" cy="312.5" r="1.95" fill="url(#gb)"/><circle cx="423.26" cy="313.05" r="1.95" fill="url(#gb)"/><circle cx="424.7" cy="312.2" r="1.95" fill="url(#gb)"/><circle cx="426.15" cy="311.91" r="1.95" fill="url(#gb)"/><circle cx="427.6" cy="312.61" r="1.95" fill="url(#gb)"/><circle cx="429.04" cy="312.77" r="1.95" fill="url(#gb)"/><circle cx="430.49" cy="312.72" r="1.95" fill="url(#gb)"/><circle cx="431.93" cy="311.84" r="1.95" fill="url(#gb)"/><circle cx="433.38" cy="312.77" r="1.95" fill="url(#gb)"/><circle cx="434.82" cy="312.91" r="1.95" fill="url(#gb)"/><circle cx="436.26" cy="312.46" r="1.95" fill="url(#gb)"/><circle cx="437.71" cy="312.16" r="1.95" fill="url(#gb)"/><circle cx="439.15" cy="312.61" r="1.95" fill="url(#gb)"/><circle cx="440.6" cy="313.04" r="1.95" fill="url(#gb)"/><circle cx="442.04" cy="312.35" r="1.95" fill="url(#gb)"/><circle cx="443.49" cy="311.97" r="1.95" fill="url(#gb)"/><circle cx="444.94" cy="312.86" r="1.95" fill="url(#gb)"/><circle cx="446.38" cy="313.09" r="1.95" fill="url(#gb)"/><circle cx="447.82" cy="312.59" r="1.95" fill="url(#gb)"/><polyline fill="none" stroke="#2a2a9a" stroke-width="0.7" points="231.07,382.77 232.52,383.07 233.96,382.78 235.41,382 236.85,383.16 238.3,383.41 239.75,382.93 241.19,382.68 242.63,382.85 244.08,383.26 245.52,382.78 246.97,382.44 248.41,383.08 249.86,383.4 251.3,383.1 252.75,382.54 254.19,382.96 255.64,383.08 257.08,382.69 258.53,382.15 259.97,383.09 261.42,383.4 262.87,383.09 264.31,382.19 265.75,383.14 267.2,383.55 268.64,382.76 270.09,382.07 271.53,383.01 272.98,383.42 274.42,382.63 275.87,381.93 277.31,382.71 278.76,383.22 280.2,382.72 281.65,381.11 283.09,382.89 284.54,383.53 285.99,382.95 287.43,380.94 288.88,382.85 290.32,383.27 291.76,383.12 293.21,379.35 294.65,382.88 296.1,383.36 297.54,383.01 298.99,377.17 300.44,382.59 301.88,383.65 303.32,382.14 304.77,374.18 306.21,382.49 307.66,383.83 309.1,380.59 310.55,369.13 312,381.28 313.44,384.01 314.88,378.71 316.33,362.41 317.77,380.51 319.22,384.45 320.66,377.07 322.11,353.55 323.56,379.85 325,384.63 326.44,376.58 327.89,342.32 329.33,378.88 330.78,384.83 332.22,376.69 333.67,330.56 335.12,378.1 336.56,385.04 338,377.64 339.45,321.87 340.89,377.59 342.34,384.87 343.78,378.38 345.23,330.71 346.68,376.71 348.12,385.01 349.56,379.11 351.01,342.36 352.45,376.33 353.9,385.03 355.34,379.84 356.79,353.47 358.24,377.31 359.68,384.4 361.12,380.26 362.57,362.37 364.01,378.45 365.46,384.13 366.9,381.52 368.35,369.19 369.8,380.61 371.24,383.63 372.69,382.11 374.13,373.99 375.57,382.07 377.02,383.57 378.46,382.9 379.91,377.21 381.36,382.83 382.8,383.21 384.25,382.95 385.69,379.5 387.13,382.77 388.58,383.25 390.02,382.99 391.47,380.61 392.91,382.64 394.36,383.18 395.81,383.01 397.25,381.41 398.69,382.86 400.14,383.16 401.58,382.47 403.03,381.89 404.48,382.57 405.92,383.26 407.37,383.12 408.81,381.91 410.25,382.76 411.7,383.25 413.14,382.78 414.59,382.26 416.03,382.63 417.48,383.42 418.93,382.99 420.37,382.34 421.81,382.83 423.26,383.18 424.7,382.79 426.15,382.65 427.6,382.82 429.04,383.48 430.49,383.05 431.93,382.36 433.38,383.11 434.82,383.22 436.26,382.93 437.71,382.52 439.15,382.51 440.6,383.2 442.04,382.76 443.49,382.82 444.94,383.14 446.38,383.13 447.82,383.42"/><circle cx="231.07" cy="382.77" r="1.95" fill="url(#gb)"/><circle cx="232.52" cy="383.07" r="1.95" fill="url(#gb)"/><circle cx="233.96" cy="382.78" r="1.95" fill="url(#gb)"/><circle cx="235.41" cy="382" r="1.95" fill="url(#gb)"/><circle cx="236.85" cy="383.16" r="1.95" fill="url(#gb)"/><circle cx="238.3" cy="383.41" r="1.95" fill="url(#gb)"/><circle cx="239.75" cy="382.93" r="1.95" fill="url(#gb)"/><circle cx="241.19" cy="382.68" r="1.95" fill="url(#gb)"/><circle cx="242.63" cy="382.85" r="1.95" fill="url(#gb)"/><circle cx="244.08" cy="383.26" r="1.95" fill="url(#gb)"/><circle cx="245.52" cy="382.78" r="1.95" fill="url(#gb)"/><circle cx="246.97" cy="382.44" r="1.95" fill="url(#gb)"/><circle cx="248.41" cy="383.08" r="1.95" fill="url(#gb)"/><circle cx="249.86" cy="383.4" r="1.95" fill="url(#gb)"/><circle cx="251.3" cy="383.1" r="1.95" fill="url(#gb)"/><circle cx="252.75" cy="382.54" r="1.95" fill="url(#gb)"/><circle cx="254.19" cy="382.96" r="1.95" fill="url(#gb)"/><circle cx="255.64" cy="383.08" r="1.95" fill="url(#gb)"/><circle cx="257.08" cy="382.69" r="1.95" fill="url(#gb)"/><circle cx="258.53" cy="382.15" r="1.95" fill="url(#gb)"/><circle cx="259.97" cy="383.09" r="1.95" fill="url(#gb)"/><circle cx="261.42" cy="383.4" r="1.95" fill="url(#gb)"/><circle cx="262.87" cy="383.09" r="1.95" fill="url(#gb)"/><circle cx="264.31" cy="382.19" r="1.95" fill="url(#gb)"/><circle cx="265.75" cy="383.14" r="1.95" fill="url(#gb)"/><circle cx="267.2" cy="383.55" r="1.95" fill="url(#gb)"/><circle cx="268.64" cy="382.76" r="1.95" fill="url(#gb)"/><circle cx="270.09" cy="382.07" r="1.95" fill="url(#gb)"/><circle cx="271.53" cy="383.01" r="1.95" fill="url(#gb)"/><circle cx="272.98" cy="383.42" r="1.95" fill="url(#gb)"/><circle cx="274.42" cy="382.63" r="1.95" fill="url(#gb)"/><circle cx="275.87" cy="381.93" r="1.95" fill="url(#gb)"/><circle cx="277.31" cy="382.71" r="1.95" fill="url(#gb)"/><circle cx="278.76" cy="383.22" r="1.95" fill="url(#gb)"/><circle cx="280.2" cy="382.72" r="1.95" fill="url(#gb)"/><circle cx="281.65" cy="381.11" r="1.95" fill="url(#gb)"/><circle cx="283.09" cy="382.89" r="1.95" fill="url(#gb)"/><circle cx="284.54" cy="383.53" r="1.95" fill="url(#gb)"/><circle cx="285.99" cy="382.95" r="1.95" fill="url(#gb)"/><circle cx="287.43" cy="380.94" r="1.95" fill="url(#gb)"/><circle cx="288.88" cy="382.85" r="1.95" fill="url(#gb)"/><circle cx="290.32" cy="383.27" r="1.95" fill="url(#gb)"/><circle cx="291.76" cy="383.12" r="1.95" fill="url(#gb)"/><circle cx="293.21" cy="379.35" r="1.95" fill="url(#gb)"/><circle cx="294.65" cy="382.88" r="1.95" fill="url(#gb)"/><circle cx="296.1" cy="383.36" r="1.95" fill="url(#gb)"/><circle cx="297.54" cy="383.01" r="1.95" fill="url(#gb)"/><circle cx="298.99" cy="377.17" r="1.95" fill="url(#gb)"/><circle cx="300.44" cy="382.59" r="1.95" fill="url(#gb)"/><circle cx="301.88" cy="383.65" r="1.95" fill="url(#gb)"/><circle cx="303.32" cy="382.14" r="1.95" fill="url(#gb)"/><circle cx="304.77" cy="374.18" r="1.95" fill="url(#gb)"/><circle cx="306.21" cy="382.49" r="1.95" fill="url(#gb)"/><circle cx="307.66" cy="383.83" r="1.95" fill="url(#gb)"/><circle cx="309.1" cy="380.59" r="1.95" fill="url(#gb)"/><circle cx="310.55" cy="369.13" r="1.95" fill="url(#gb)"/><circle cx="312" cy="381.28" r="1.95" fill="url(#gb)"/><circle cx="313.44" cy="384.01" r="1.95" fill="url(#gb)"/><circle cx="314.88" cy="378.71" r="1.95" fill="url(#gb)"/><circle cx="316.33" cy="362.41" r="1.95" fill="url(#gb)"/><circle cx="317.77" cy="380.51" r="1.95" fill="url(#gb)"/><circle cx="319.22" cy="384.45" r="1.95" fill="url(#gb)"/><circle cx="320.66" cy="377.07" r="1.95" fill="url(#gb)"/><circle cx="322.11" cy="353.55" r="1.95" fill="url(#gb)"/><circle cx="323.56" cy="379.85" r="1.95" fill="url(#gb)"/><circle cx="325" cy="384.63" r="1.95" fill="url(#gb)"/><circle cx="326.44" cy="376.58" r="1.95" fill="url(#gb)"/><circle cx="327.89" cy="342.32" r="1.95" fill="url(#gb)"/><circle cx="329.33" cy="378.88" r="1.95" fill="url(#gb)"/><circle cx="330.78" cy="384.83" r="1.95" fill="url(#gb)"/><circle cx="332.22" cy="376.69" r="1.95" fill="url(#gb)"/><circle cx="333.67" cy="330.56" r="1.95" fill="url(#gb)"/><circle cx="335.12" cy="378.1" r="1.95" fill="url(#gb)"/><circle cx="336.56" cy="385.04" r="1.95" fill="url(#gb)"/><circle cx="338" cy="377.64" r="1.95" fill="url(#gb)"/><circle cx="339.45" cy="321.87" r="1.95" fill="url(#gb)"/><circle cx="340.89" cy="377.59" r="1.95" fill="url(#gb)"/><circle cx="342.34" cy="384.87" r="1.95" fill="url(#gb)"/><circle cx="343.78" cy="378.38" r="1.95" fill="url(#gb)"/><circle cx="345.23" cy="330.71" r="1.95" fill="url(#gb)"/><circle cx="346.68" cy="376.71" r="1.95" fill="url(#gb)"/><circle cx="348.12" cy="385.01" r="1.95" fill="url(#gb)"/><circle cx="349.56" cy="379.11" r="1.95" fill="url(#gb)"/><circle cx="351.01" cy="342.36" r="1.95" fill="url(#gb)"/><circle cx="352.45" cy="376.33" r="1.95" fill="url(#gb)"/><circle cx="353.9" cy="385.03" r="1.95" fill="url(#gb)"/><circle cx="355.34" cy="379.84" r="1.95" fill="url(#gb)"/><circle cx="356.79" cy="353.47" r="1.95" fill="url(#gb)"/><circle cx="358.24" cy="377.31" r="1.95" fill="url(#gb)"/><circle cx="359.68" cy="384.4" r="1.95" fill="url(#gb)"/><circle cx="361.12" cy="380.26" r="1.95" fill="url(#gb)"/><circle cx="362.57" cy="362.37" r="1.95" fill="url(#gb)"/><circle cx="364.01" cy="378.45" r="1.95" fill="url(#gb)"/><circle cx="365.46" cy="384.13" r="1.95" fill="url(#gb)"/><circle cx="366.9" cy="381.52" r="1.95" fill="url(#gb)"/><circle cx="368.35" cy="369.19" r="1.95" fill="url(#gb)"/><circle cx="369.8" cy="380.61" r="1.95" fill="url(#gb)"/><circle cx="371.24" cy="383.63" r="1.95" fill="url(#gb)"/><circle cx="372.69" cy="382.11" r="1.95" fill="url(#gb)"/><circle cx="374.13" cy="373.99" r="1.95" fill="url(#gb)"/><circle cx="375.57" cy="382.07" r="1.95" fill="url(#gb)"/><circle cx="377.02" cy="383.57" r="1.95" fill="url(#gb)"/><circle cx="378.46" cy="382.9" r="1.95" fill="url(#gb)"/><circle cx="379.91" cy="377.21" r="1.95" fill="url(#gb)"/><circle cx="381.36" cy="382.83" r="1.95" fill="url(#gb)"/><circle cx="382.8" cy="383.21" r="1.95" fill="url(#gb)"/><circle cx="384.25" cy="382.95" r="1.95" fill="url(#gb)"/><circle cx="385.69" cy="379.5" r="1.95" fill="url(#gb)"/><circle cx="387.13" cy="382.77" r="1.95" fill="url(#gb)"/><circle cx="388.58" cy="383.25" r="1.95" fill="url(#gb)"/><circle cx="390.02" cy="382.99" r="1.95" fill="url(#gb)"/><circle cx="391.47" cy="380.61" r="1.95" fill="url(#gb)"/><circle cx="392.91" cy="382.64" r="1.95" fill="url(#gb)"/><circle cx="394.36" cy="383.18" r="1.95" fill="url(#gb)"/><circle cx="395.81" cy="383.01" r="1.95" fill="url(#gb)"/><circle cx="397.25" cy="381.41" r="1.95" fill="url(#gb)"/><circle cx="398.69" cy="382.86" r="1.95" fill="url(#gb)"/><circle cx="400.14" cy="383.16" r="1.95" fill="url(#gb)"/><circle cx="401.58" cy="382.47" r="1.95" fill="url(#gb)"/><circle cx="403.03" cy="381.89" r="1.95" fill="url(#gb)"/><circle cx="404.48" cy="382.57" r="1.95" fill="url(#gb)"/><circle cx="405.92" cy="383.26" r="1.95" fill="url(#gb)"/><circle cx="407.37" cy="383.12" r="1.95" fill="url(#gb)"/><circle cx="408.81" cy="381.91" r="1.95" fill="url(#gb)"/><circle cx="410.25" cy="382.76" r="1.95" fill="url(#gb)"/><circle cx="411.7" cy="383.25" r="1.95" fill="url(#gb)"/><circle cx="413.14" cy="382.78" r="1.95" fill="url(#gb)"/><circle cx="414.59" cy="382.26" r="1.95" fill="url(#gb)"/><circle cx="416.03" cy="382.63" r="1.95" fill="url(#gb)"/><circle cx="417.48" cy="383.42" r="1.95" fill="url(#gb)"/><circle cx="418.93" cy="382.99" r="1.95" fill="url(#gb)"/><circle cx="420.37" cy="382.34" r="1.95" fill="url(#gb)"/><circle cx="421.81" cy="382.83" r="1.95" fill="url(#gb)"/><circle cx="423.26" cy="383.18" r="1.95" fill="url(#gb)"/><circle cx="424.7" cy="382.79" r="1.95" fill="url(#gb)"/><circle cx="426.15" cy="382.65" r="1.95" fill="url(#gb)"/><circle cx="427.6" cy="382.82" r="1.95" fill="url(#gb)"/><circle cx="429.04" cy="383.48" r="1.95" fill="url(#gb)"/><circle cx="430.49" cy="383.05" r="1.95" fill="url(#gb)"/><circle cx="431.93" cy="382.36" r="1.95" fill="url(#gb)"/><circle cx="433.38" cy="383.11" r="1.95" fill="url(#gb)"/><circle cx="434.82" cy="383.22" r="1.95" fill="url(#gb)"/><circle cx="436.26" cy="382.93" r="1.95" fill="url(#gb)"/><circle cx="437.71" cy="382.52" r="1.95" fill="url(#gb)"/><circle cx="439.15" cy="382.51" r="1.95" fill="url(#gb)"/><circle cx="440.6" cy="383.2" r="1.95" fill="url(#gb)"/><circle cx="442.04" cy="382.76" r="1.95" fill="url(#gb)"/><circle cx="443.49" cy="382.82" r="1.95" fill="url(#gb)"/><circle cx="444.94" cy="383.14" r="1.95" fill="url(#gb)"/><circle cx="446.38" cy="383.13" r="1.95" fill="url(#gb)"/><circle cx="447.82" cy="383.42" r="1.95" fill="url(#gb)"/></g><g stroke="#5c5c5c" stroke-width="1" fill="none"><path d="M236.5 388.3V391.8"/><path d="M246.8 388.3V390.3"/><path d="M257.09 388.3V391.8"/><path d="M267.38 388.3V390.3"/><path d="M277.68 388.3V391.8"/><path d="M287.98 388.3V390.3"/><path d="M298.27 388.3V391.8"/><path d="M308.56 388.3V390.3"/><path d="M318.86 388.3V391.8"/><path d="M329.15 388.3V390.3"/><path d="M339.45 388.3V391.8"/><path d="M349.75 388.3V390.3"/><path d="M360.04 388.3V391.8"/><path d="M370.33 388.3V390.3"/><path d="M380.63 388.3V391.8"/><path d="M390.92 388.3V390.3"/><path d="M401.22 388.3V391.8"/><path d="M411.51 388.3V390.3"/><path d="M421.81 388.3V391.8"/><path d="M432.1 388.3V390.3"/><path d="M442.4 388.3V391.8"/><rect x="236.5" y="37.1" width="205.9" height="351.2" fill="none"/></g><text x="412.8" y="78.5" font-size="9.9" text-anchor="middle" font-weight="normal" >Period</text><text x="412.8" y="90.5" font-size="9.9" text-anchor="middle" font-weight="normal" >600 nm</text><text x="412.6" y="160.9" font-size="9.9" text-anchor="middle" font-weight="normal" >550 nm</text><text x="412.6" y="231.3" font-size="9.9" text-anchor="middle" font-weight="normal" >500 nm</text><text x="412.6" y="301" font-size="9.9" text-anchor="middle" font-weight="normal" >450 nm</text><text x="412.6" y="371.3" font-size="9.9" text-anchor="middle" font-weight="normal" >400 nm</text><text x="339.7" y="420" font-size="9.9" text-anchor="middle" font-weight="normal" >Time delay (fs)</text><text x="0" y="0" font-size="9.75" text-anchor="middle" font-weight="normal" transform="translate(225.3 217.95) rotate(-90)">Normalized PE</text><text x="473.6" y="404.3" font-size="9.9" text-anchor="middle" font-weight="normal" >−50</text><text x="494.21" y="404.3" font-size="9.9" text-anchor="middle" font-weight="normal" >−40</text><text x="514.82" y="404.3" font-size="9.9" text-anchor="middle" font-weight="normal" >−30</text><text x="535.43" y="404.3" font-size="9.9" text-anchor="middle" font-weight="normal" >−20</text><text x="556.04" y="404.3" font-size="9.9" text-anchor="middle" font-weight="normal" >−10</text><text x="576.55" y="404.3" font-size="9.9" text-anchor="middle" font-weight="normal" >0</text><text x="597.16" y="404.3" font-size="9.9" text-anchor="middle" font-weight="normal" >10</text><text x="617.77" y="404.3" font-size="9.9" text-anchor="middle" font-weight="normal" >20</text><text x="638.38" y="404.3" font-size="9.9" text-anchor="middle" font-weight="normal" >30</text><text x="658.99" y="404.3" font-size="9.9" text-anchor="middle" font-weight="normal" >40</text><text x="679.6" y="404.3" font-size="9.9" text-anchor="middle" font-weight="normal" >50</text><g clip-path="url(#cc)"><polyline fill="none" stroke="#e0101c" stroke-width="0.7" points="467.88,101.8 469.32,102.23 470.76,101.8 472.21,101.37 473.65,101.8 475.1,102.23 476.55,101.8 477.99,101.37 479.44,101.8 480.88,102.23 482.32,101.8 483.77,101.36 485.21,101.8 486.66,102.23 488.11,101.8 489.55,101.34 491,101.79 492.44,102.23 493.88,101.79 495.33,101.31 496.77,101.79 498.22,102.23 499.66,101.78 501.11,101.24 502.56,101.78 504,102.23 505.44,101.77 506.89,101.1 508.33,101.75 509.78,102.24 511.23,101.73 512.67,100.86 514.12,101.71 515.56,102.25 517,101.68 518.45,100.46 519.89,101.64 521.34,102.28 522.78,101.6 524.23,99.83 525.67,101.54 527.12,102.33 528.57,101.47 530.01,98.89 531.46,101.38 532.9,102.42 534.35,101.23 535.79,97.57 537.24,101.1 538.68,102.57 540.12,100.58 541.57,95.68 543.01,100.5 544.46,102.78 545.9,99.15 547.35,92.68 548.79,99.55 550.24,103.05 551.68,97.22 553.13,87.24 554.58,98.55 556.02,103.35 557.47,95.57 558.91,77.47 560.36,97.81 561.8,103.66 563.25,94.78 564.69,62.85 566.13,96.95 567.58,103.91 569.02,95 570.47,47.49 571.91,96.15 573.36,104.05 574.8,95.51 576.25,40.17 577.7,95.51 579.14,104.05 580.59,96.15 582.03,47.49 583.48,95 584.92,103.91 586.37,96.95 587.81,62.85 589.25,94.78 590.7,103.66 592.14,97.81 593.59,77.47 595.03,95.57 596.48,103.35 597.92,98.55 599.37,87.24 600.82,97.22 602.26,103.05 603.71,99.55 605.15,92.68 606.6,99.15 608.04,102.78 609.49,100.5 610.93,95.68 612.38,100.58 613.82,102.57 615.26,101.1 616.71,97.57 618.15,101.23 619.6,102.42 621.04,101.38 622.49,98.89 623.93,101.47 625.38,102.33 626.83,101.54 628.27,99.83 629.72,101.6 631.16,102.28 632.61,101.64 634.05,100.46 635.5,101.68 636.94,102.25 638.38,101.71 639.83,100.86 641.27,101.73 642.72,102.24 644.16,101.75 645.61,101.1 647.06,101.77 648.5,102.23 649.95,101.78 651.39,101.24 652.84,101.78 654.28,102.23 655.73,101.79 657.17,101.31 658.62,101.79 660.06,102.23 661.5,101.79 662.95,101.34 664.39,101.8 665.84,102.23 667.28,101.8 668.73,101.36 670.17,101.8 671.62,102.23 673.07,101.8 674.51,101.37 675.96,101.8 677.4,102.23 678.85,101.8 680.29,101.37 681.74,101.8 683.18,102.23 684.62,101.8"/><circle cx="467.88" cy="101.8" r="1.95" fill="url(#gr)"/><circle cx="469.32" cy="102.23" r="1.95" fill="url(#gr)"/><circle cx="470.76" cy="101.8" r="1.95" fill="url(#gr)"/><circle cx="472.21" cy="101.37" r="1.95" fill="url(#gr)"/><circle cx="473.65" cy="101.8" r="1.95" fill="url(#gr)"/><circle cx="475.1" cy="102.23" r="1.95" fill="url(#gr)"/><circle cx="476.55" cy="101.8" r="1.95" fill="url(#gr)"/><circle cx="477.99" cy="101.37" r="1.95" fill="url(#gr)"/><circle cx="479.44" cy="101.8" r="1.95" fill="url(#gr)"/><circle cx="480.88" cy="102.23" r="1.95" fill="url(#gr)"/><circle cx="482.32" cy="101.8" r="1.95" fill="url(#gr)"/><circle cx="483.77" cy="101.36" r="1.95" fill="url(#gr)"/><circle cx="485.21" cy="101.8" r="1.95" fill="url(#gr)"/><circle cx="486.66" cy="102.23" r="1.95" fill="url(#gr)"/><circle cx="488.11" cy="101.8" r="1.95" fill="url(#gr)"/><circle cx="489.55" cy="101.34" r="1.95" fill="url(#gr)"/><circle cx="491" cy="101.79" r="1.95" fill="url(#gr)"/><circle cx="492.44" cy="102.23" r="1.95" fill="url(#gr)"/><circle cx="493.88" cy="101.79" r="1.95" fill="url(#gr)"/><circle cx="495.33" cy="101.31" r="1.95" fill="url(#gr)"/><circle cx="496.77" cy="101.79" r="1.95" fill="url(#gr)"/><circle cx="498.22" cy="102.23" r="1.95" fill="url(#gr)"/><circle cx="499.66" cy="101.78" r="1.95" fill="url(#gr)"/><circle cx="501.11" cy="101.24" r="1.95" fill="url(#gr)"/><circle cx="502.56" cy="101.78" r="1.95" fill="url(#gr)"/><circle cx="504" cy="102.23" r="1.95" fill="url(#gr)"/><circle cx="505.44" cy="101.77" r="1.95" fill="url(#gr)"/><circle cx="506.89" cy="101.1" r="1.95" fill="url(#gr)"/><circle cx="508.33" cy="101.75" r="1.95" fill="url(#gr)"/><circle cx="509.78" cy="102.24" r="1.95" fill="url(#gr)"/><circle cx="511.23" cy="101.73" r="1.95" fill="url(#gr)"/><circle cx="512.67" cy="100.86" r="1.95" fill="url(#gr)"/><circle cx="514.12" cy="101.71" r="1.95" fill="url(#gr)"/><circle cx="515.56" cy="102.25" r="1.95" fill="url(#gr)"/><circle cx="517" cy="101.68" r="1.95" fill="url(#gr)"/><circle cx="518.45" cy="100.46" r="1.95" fill="url(#gr)"/><circle cx="519.89" cy="101.64" r="1.95" fill="url(#gr)"/><circle cx="521.34" cy="102.28" r="1.95" fill="url(#gr)"/><circle cx="522.78" cy="101.6" r="1.95" fill="url(#gr)"/><circle cx="524.23" cy="99.83" r="1.95" fill="url(#gr)"/><circle cx="525.67" cy="101.54" r="1.95" fill="url(#gr)"/><circle cx="527.12" cy="102.33" r="1.95" fill="url(#gr)"/><circle cx="528.57" cy="101.47" r="1.95" fill="url(#gr)"/><circle cx="530.01" cy="98.89" r="1.95" fill="url(#gr)"/><circle cx="531.46" cy="101.38" r="1.95" fill="url(#gr)"/><circle cx="532.9" cy="102.42" r="1.95" fill="url(#gr)"/><circle cx="534.35" cy="101.23" r="1.95" fill="url(#gr)"/><circle cx="535.79" cy="97.57" r="1.95" fill="url(#gr)"/><circle cx="537.24" cy="101.1" r="1.95" fill="url(#gr)"/><circle cx="538.68" cy="102.57" r="1.95" fill="url(#gr)"/><circle cx="540.12" cy="100.58" r="1.95" fill="url(#gr)"/><circle cx="541.57" cy="95.68" r="1.95" fill="url(#gr)"/><circle cx="543.01" cy="100.5" r="1.95" fill="url(#gr)"/><circle cx="544.46" cy="102.78" r="1.95" fill="url(#gr)"/><circle cx="545.9" cy="99.15" r="1.95" fill="url(#gr)"/><circle cx="547.35" cy="92.68" r="1.95" fill="url(#gr)"/><circle cx="548.79" cy="99.55" r="1.95" fill="url(#gr)"/><circle cx="550.24" cy="103.05" r="1.95" fill="url(#gr)"/><circle cx="551.68" cy="97.22" r="1.95" fill="url(#gr)"/><circle cx="553.13" cy="87.24" r="1.95" fill="url(#gr)"/><circle cx="554.58" cy="98.55" r="1.95" fill="url(#gr)"/><circle cx="556.02" cy="103.35" r="1.95" fill="url(#gr)"/><circle cx="557.47" cy="95.57" r="1.95" fill="url(#gr)"/><circle cx="558.91" cy="77.47" r="1.95" fill="url(#gr)"/><circle cx="560.36" cy="97.81" r="1.95" fill="url(#gr)"/><circle cx="561.8" cy="103.66" r="1.95" fill="url(#gr)"/><circle cx="563.25" cy="94.78" r="1.95" fill="url(#gr)"/><circle cx="564.69" cy="62.85" r="1.95" fill="url(#gr)"/><circle cx="566.13" cy="96.95" r="1.95" fill="url(#gr)"/><circle cx="567.58" cy="103.91" r="1.95" fill="url(#gr)"/><circle cx="569.02" cy="95" r="1.95" fill="url(#gr)"/><circle cx="570.47" cy="47.49" r="1.95" fill="url(#gr)"/><circle cx="571.91" cy="96.15" r="1.95" fill="url(#gr)"/><circle cx="573.36" cy="104.05" r="1.95" fill="url(#gr)"/><circle cx="574.8" cy="95.51" r="1.95" fill="url(#gr)"/><circle cx="576.25" cy="40.17" r="1.95" fill="url(#gr)"/><circle cx="577.7" cy="95.51" r="1.95" fill="url(#gr)"/><circle cx="579.14" cy="104.05" r="1.95" fill="url(#gr)"/><circle cx="580.59" cy="96.15" r="1.95" fill="url(#gr)"/><circle cx="582.03" cy="47.49" r="1.95" fill="url(#gr)"/><circle cx="583.48" cy="95" r="1.95" fill="url(#gr)"/><circle cx="584.92" cy="103.91" r="1.95" fill="url(#gr)"/><circle cx="586.37" cy="96.95" r="1.95" fill="url(#gr)"/><circle cx="587.81" cy="62.85" r="1.95" fill="url(#gr)"/><circle cx="589.25" cy="94.78" r="1.95" fill="url(#gr)"/><circle cx="590.7" cy="103.66" r="1.95" fill="url(#gr)"/><circle cx="592.14" cy="97.81" r="1.95" fill="url(#gr)"/><circle cx="593.59" cy="77.47" r="1.95" fill="url(#gr)"/><circle cx="595.03" cy="95.57" r="1.95" fill="url(#gr)"/><circle cx="596.48" cy="103.35" r="1.95" fill="url(#gr)"/><circle cx="597.92" cy="98.55" r="1.95" fill="url(#gr)"/><circle cx="599.37" cy="87.24" r="1.95" fill="url(#gr)"/><circle cx="600.82" cy="97.22" r="1.95" fill="url(#gr)"/><circle cx="602.26" cy="103.05" r="1.95" fill="url(#gr)"/><circle cx="603.71" cy="99.55" r="1.95" fill="url(#gr)"/><circle cx="605.15" cy="92.68" r="1.95" fill="url(#gr)"/><circle cx="606.6" cy="99.15" r="1.95" fill="url(#gr)"/><circle cx="608.04" cy="102.78" r="1.95" fill="url(#gr)"/><circle cx="609.49" cy="100.5" r="1.95" fill="url(#gr)"/><circle cx="610.93" cy="95.68" r="1.95" fill="url(#gr)"/><circle cx="612.38" cy="100.58" r="1.95" fill="url(#gr)"/><circle cx="613.82" cy="102.57" r="1.95" fill="url(#gr)"/><circle cx="615.26" cy="101.1" r="1.95" fill="url(#gr)"/><circle cx="616.71" cy="97.57" r="1.95" fill="url(#gr)"/><circle cx="618.15" cy="101.23" r="1.95" fill="url(#gr)"/><circle cx="619.6" cy="102.42" r="1.95" fill="url(#gr)"/><circle cx="621.04" cy="101.38" r="1.95" fill="url(#gr)"/><circle cx="622.49" cy="98.89" r="1.95" fill="url(#gr)"/><circle cx="623.93" cy="101.47" r="1.95" fill="url(#gr)"/><circle cx="625.38" cy="102.33" r="1.95" fill="url(#gr)"/><circle cx="626.83" cy="101.54" r="1.95" fill="url(#gr)"/><circle cx="628.27" cy="99.83" r="1.95" fill="url(#gr)"/><circle cx="629.72" cy="101.6" r="1.95" fill="url(#gr)"/><circle cx="631.16" cy="102.28" r="1.95" fill="url(#gr)"/><circle cx="632.61" cy="101.64" r="1.95" fill="url(#gr)"/><circle cx="634.05" cy="100.46" r="1.95" fill="url(#gr)"/><circle cx="635.5" cy="101.68" r="1.95" fill="url(#gr)"/><circle cx="636.94" cy="102.25" r="1.95" fill="url(#gr)"/><circle cx="638.38" cy="101.71" r="1.95" fill="url(#gr)"/><circle cx="639.83" cy="100.86" r="1.95" fill="url(#gr)"/><circle cx="641.27" cy="101.73" r="1.95" fill="url(#gr)"/><circle cx="642.72" cy="102.24" r="1.95" fill="url(#gr)"/><circle cx="644.16" cy="101.75" r="1.95" fill="url(#gr)"/><circle cx="645.61" cy="101.1" r="1.95" fill="url(#gr)"/><circle cx="647.06" cy="101.77" r="1.95" fill="url(#gr)"/><circle cx="648.5" cy="102.23" r="1.95" fill="url(#gr)"/><circle cx="649.95" cy="101.78" r="1.95" fill="url(#gr)"/><circle cx="651.39" cy="101.24" r="1.95" fill="url(#gr)"/><circle cx="652.84" cy="101.78" r="1.95" fill="url(#gr)"/><circle cx="654.28" cy="102.23" r="1.95" fill="url(#gr)"/><circle cx="655.73" cy="101.79" r="1.95" fill="url(#gr)"/><circle cx="657.17" cy="101.31" r="1.95" fill="url(#gr)"/><circle cx="658.62" cy="101.79" r="1.95" fill="url(#gr)"/><circle cx="660.06" cy="102.23" r="1.95" fill="url(#gr)"/><circle cx="661.5" cy="101.79" r="1.95" fill="url(#gr)"/><circle cx="662.95" cy="101.34" r="1.95" fill="url(#gr)"/><circle cx="664.39" cy="101.8" r="1.95" fill="url(#gr)"/><circle cx="665.84" cy="102.23" r="1.95" fill="url(#gr)"/><circle cx="667.28" cy="101.8" r="1.95" fill="url(#gr)"/><circle cx="668.73" cy="101.36" r="1.95" fill="url(#gr)"/><circle cx="670.17" cy="101.8" r="1.95" fill="url(#gr)"/><circle cx="671.62" cy="102.23" r="1.95" fill="url(#gr)"/><circle cx="673.07" cy="101.8" r="1.95" fill="url(#gr)"/><circle cx="674.51" cy="101.37" r="1.95" fill="url(#gr)"/><circle cx="675.96" cy="101.8" r="1.95" fill="url(#gr)"/><circle cx="677.4" cy="102.23" r="1.95" fill="url(#gr)"/><circle cx="678.85" cy="101.8" r="1.95" fill="url(#gr)"/><circle cx="680.29" cy="101.37" r="1.95" fill="url(#gr)"/><circle cx="681.74" cy="101.8" r="1.95" fill="url(#gr)"/><circle cx="683.18" cy="102.23" r="1.95" fill="url(#gr)"/><circle cx="684.62" cy="101.8" r="1.95" fill="url(#gr)"/><polyline fill="none" stroke="#e0101c" stroke-width="0.7" points="467.88,172.05 469.32,172.48 470.76,172.05 472.21,171.62 473.65,172.05 475.1,172.48 476.55,172.05 477.99,171.62 479.44,172.05 480.88,172.48 482.32,172.05 483.77,171.62 485.21,172.05 486.66,172.48 488.11,172.05 489.55,171.62 491,172.05 492.44,172.48 493.88,172.05 495.33,171.62 496.77,172.05 498.22,172.48 499.66,172.05 501.11,171.61 502.56,172.05 504,172.48 505.44,172.05 506.89,171.6 508.33,172.05 509.78,172.49 511.23,172.04 512.67,171.56 514.12,172.04 515.56,172.5 517,172.03 518.45,171.45 519.89,172.01 521.34,172.53 522.78,171.99 524.23,171.17 525.67,171.95 527.12,172.58 528.57,171.9 530.01,170.54 531.46,171.81 532.9,172.67 534.35,171.69 535.79,169.18 537.24,171.53 538.68,172.82 540.12,171.31 541.57,166.52 543.01,171.03 544.46,173.03 545.9,170.67 547.35,161.79 548.79,170.24 550.24,173.3 551.68,169.75 553.13,154.2 554.58,169.19 556.02,173.6 557.47,168.59 558.91,143.4 560.36,167.98 561.8,173.91 563.25,167.4 564.69,130.24 566.13,166.86 567.58,174.16 569.02,166.43 570.47,117.44 571.91,166.11 573.36,174.3 574.8,165.95 576.25,110.42 577.7,165.95 579.14,174.3 580.59,166.11 582.03,117.44 583.48,166.43 584.92,174.16 586.37,166.86 587.81,130.24 589.25,167.4 590.7,173.91 592.14,167.98 593.59,143.4 595.03,168.59 596.48,173.6 597.92,169.19 599.37,154.2 600.82,169.75 602.26,173.3 603.71,170.24 605.15,161.79 606.6,170.67 608.04,173.03 609.49,171.03 610.93,166.52 612.38,171.31 613.82,172.82 615.26,171.53 616.71,169.18 618.15,171.69 619.6,172.67 621.04,171.81 622.49,170.54 623.93,171.9 625.38,172.58 626.83,171.95 628.27,171.17 629.72,171.99 631.16,172.53 632.61,172.01 634.05,171.45 635.5,172.03 636.94,172.5 638.38,172.04 639.83,171.56 641.27,172.04 642.72,172.49 644.16,172.05 645.61,171.6 647.06,172.05 648.5,172.48 649.95,172.05 651.39,171.61 652.84,172.05 654.28,172.48 655.73,172.05 657.17,171.62 658.62,172.05 660.06,172.48 661.5,172.05 662.95,171.62 664.39,172.05 665.84,172.48 667.28,172.05 668.73,171.62 670.17,172.05 671.62,172.48 673.07,172.05 674.51,171.62 675.96,172.05 677.4,172.48 678.85,172.05 680.29,171.62 681.74,172.05 683.18,172.48 684.62,172.05"/><circle cx="467.88" cy="172.05" r="1.95" fill="url(#gr)"/><circle cx="469.32" cy="172.48" r="1.95" fill="url(#gr)"/><circle cx="470.76" cy="172.05" r="1.95" fill="url(#gr)"/><circle cx="472.21" cy="171.62" r="1.95" fill="url(#gr)"/><circle cx="473.65" cy="172.05" r="1.95" fill="url(#gr)"/><circle cx="475.1" cy="172.48" r="1.95" fill="url(#gr)"/><circle cx="476.55" cy="172.05" r="1.95" fill="url(#gr)"/><circle cx="477.99" cy="171.62" r="1.95" fill="url(#gr)"/><circle cx="479.44" cy="172.05" r="1.95" fill="url(#gr)"/><circle cx="480.88" cy="172.48" r="1.95" fill="url(#gr)"/><circle cx="482.32" cy="172.05" r="1.95" fill="url(#gr)"/><circle cx="483.77" cy="171.62" r="1.95" fill="url(#gr)"/><circle cx="485.21" cy="172.05" r="1.95" fill="url(#gr)"/><circle cx="486.66" cy="172.48" r="1.95" fill="url(#gr)"/><circle cx="488.11" cy="172.05" r="1.95" fill="url(#gr)"/><circle cx="489.55" cy="171.62" r="1.95" fill="url(#gr)"/><circle cx="491" cy="172.05" r="1.95" fill="url(#gr)"/><circle cx="492.44" cy="172.48" r="1.95" fill="url(#gr)"/><circle cx="493.88" cy="172.05" r="1.95" fill="url(#gr)"/><circle cx="495.33" cy="171.62" r="1.95" fill="url(#gr)"/><circle cx="496.77" cy="172.05" r="1.95" fill="url(#gr)"/><circle cx="498.22" cy="172.48" r="1.95" fill="url(#gr)"/><circle cx="499.66" cy="172.05" r="1.95" fill="url(#gr)"/><circle cx="501.11" cy="171.61" r="1.95" fill="url(#gr)"/><circle cx="502.56" cy="172.05" r="1.95" fill="url(#gr)"/><circle cx="504" cy="172.48" r="1.95" fill="url(#gr)"/><circle cx="505.44" cy="172.05" r="1.95" fill="url(#gr)"/><circle cx="506.89" cy="171.6" r="1.95" fill="url(#gr)"/><circle cx="508.33" cy="172.05" r="1.95" fill="url(#gr)"/><circle cx="509.78" cy="172.49" r="1.95" fill="url(#gr)"/><circle cx="511.23" cy="172.04" r="1.95" fill="url(#gr)"/><circle cx="512.67" cy="171.56" r="1.95" fill="url(#gr)"/><circle cx="514.12" cy="172.04" r="1.95" fill="url(#gr)"/><circle cx="515.56" cy="172.5" r="1.95" fill="url(#gr)"/><circle cx="517" cy="172.03" r="1.95" fill="url(#gr)"/><circle cx="518.45" cy="171.45" r="1.95" fill="url(#gr)"/><circle cx="519.89" cy="172.01" r="1.95" fill="url(#gr)"/><circle cx="521.34" cy="172.53" r="1.95" fill="url(#gr)"/><circle cx="522.78" cy="171.99" r="1.95" fill="url(#gr)"/><circle cx="524.23" cy="171.17" r="1.95" fill="url(#gr)"/><circle cx="525.67" cy="171.95" r="1.95" fill="url(#gr)"/><circle cx="527.12" cy="172.58" r="1.95" fill="url(#gr)"/><circle cx="528.57" cy="171.9" r="1.95" fill="url(#gr)"/><circle cx="530.01" cy="170.54" r="1.95" fill="url(#gr)"/><circle cx="531.46" cy="171.81" r="1.95" fill="url(#gr)"/><circle cx="532.9" cy="172.67" r="1.95" fill="url(#gr)"/><circle cx="534.35" cy="171.69" r="1.95" fill="url(#gr)"/><circle cx="535.79" cy="169.18" r="1.95" fill="url(#gr)"/><circle cx="537.24" cy="171.53" r="1.95" fill="url(#gr)"/><circle cx="538.68" cy="172.82" r="1.95" fill="url(#gr)"/><circle cx="540.12" cy="171.31" r="1.95" fill="url(#gr)"/><circle cx="541.57" cy="166.52" r="1.95" fill="url(#gr)"/><circle cx="543.01" cy="171.03" r="1.95" fill="url(#gr)"/><circle cx="544.46" cy="173.03" r="1.95" fill="url(#gr)"/><circle cx="545.9" cy="170.67" r="1.95" fill="url(#gr)"/><circle cx="547.35" cy="161.79" r="1.95" fill="url(#gr)"/><circle cx="548.79" cy="170.24" r="1.95" fill="url(#gr)"/><circle cx="550.24" cy="173.3" r="1.95" fill="url(#gr)"/><circle cx="551.68" cy="169.75" r="1.95" fill="url(#gr)"/><circle cx="553.13" cy="154.2" r="1.95" fill="url(#gr)"/><circle cx="554.58" cy="169.19" r="1.95" fill="url(#gr)"/><circle cx="556.02" cy="173.6" r="1.95" fill="url(#gr)"/><circle cx="557.47" cy="168.59" r="1.95" fill="url(#gr)"/><circle cx="558.91" cy="143.4" r="1.95" fill="url(#gr)"/><circle cx="560.36" cy="167.98" r="1.95" fill="url(#gr)"/><circle cx="561.8" cy="173.91" r="1.95" fill="url(#gr)"/><circle cx="563.25" cy="167.4" r="1.95" fill="url(#gr)"/><circle cx="564.69" cy="130.24" r="1.95" fill="url(#gr)"/><circle cx="566.13" cy="166.86" r="1.95" fill="url(#gr)"/><circle cx="567.58" cy="174.16" r="1.95" fill="url(#gr)"/><circle cx="569.02" cy="166.43" r="1.95" fill="url(#gr)"/><circle cx="570.47" cy="117.44" r="1.95" fill="url(#gr)"/><circle cx="571.91" cy="166.11" r="1.95" fill="url(#gr)"/><circle cx="573.36" cy="174.3" r="1.95" fill="url(#gr)"/><circle cx="574.8" cy="165.95" r="1.95" fill="url(#gr)"/><circle cx="576.25" cy="110.42" r="1.95" fill="url(#gr)"/><circle cx="577.7" cy="165.95" r="1.95" fill="url(#gr)"/><circle cx="579.14" cy="174.3" r="1.95" fill="url(#gr)"/><circle cx="580.59" cy="166.11" r="1.95" fill="url(#gr)"/><circle cx="582.03" cy="117.44" r="1.95" fill="url(#gr)"/><circle cx="583.48" cy="166.43" r="1.95" fill="url(#gr)"/><circle cx="584.92" cy="174.16" r="1.95" fill="url(#gr)"/><circle cx="586.37" cy="166.86" r="1.95" fill="url(#gr)"/><circle cx="587.81" cy="130.24" r="1.95" fill="url(#gr)"/><circle cx="589.25" cy="167.4" r="1.95" fill="url(#gr)"/><circle cx="590.7" cy="173.91" r="1.95" fill="url(#gr)"/><circle cx="592.14" cy="167.98" r="1.95" fill="url(#gr)"/><circle cx="593.59" cy="143.4" r="1.95" fill="url(#gr)"/><circle cx="595.03" cy="168.59" r="1.95" fill="url(#gr)"/><circle cx="596.48" cy="173.6" r="1.95" fill="url(#gr)"/><circle cx="597.92" cy="169.19" r="1.95" fill="url(#gr)"/><circle cx="599.37" cy="154.2" r="1.95" fill="url(#gr)"/><circle cx="600.82" cy="169.75" r="1.95" fill="url(#gr)"/><circle cx="602.26" cy="173.3" r="1.95" fill="url(#gr)"/><circle cx="603.71" cy="170.24" r="1.95" fill="url(#gr)"/><circle cx="605.15" cy="161.79" r="1.95" fill="url(#gr)"/><circle cx="606.6" cy="170.67" r="1.95" fill="url(#gr)"/><circle cx="608.04" cy="173.03" r="1.95" fill="url(#gr)"/><circle cx="609.49" cy="171.03" r="1.95" fill="url(#gr)"/><circle cx="610.93" cy="166.52" r="1.95" fill="url(#gr)"/><circle cx="612.38" cy="171.31" r="1.95" fill="url(#gr)"/><circle cx="613.82" cy="172.82" r="1.95" fill="url(#gr)"/><circle cx="615.26" cy="171.53" r="1.95" fill="url(#gr)"/><circle cx="616.71" cy="169.18" r="1.95" fill="url(#gr)"/><circle cx="618.15" cy="171.69" r="1.95" fill="url(#gr)"/><circle cx="619.6" cy="172.67" r="1.95" fill="url(#gr)"/><circle cx="621.04" cy="171.81" r="1.95" fill="url(#gr)"/><circle cx="622.49" cy="170.54" r="1.95" fill="url(#gr)"/><circle cx="623.93" cy="171.9" r="1.95" fill="url(#gr)"/><circle cx="625.38" cy="172.58" r="1.95" fill="url(#gr)"/><circle cx="626.83" cy="171.95" r="1.95" fill="url(#gr)"/><circle cx="628.27" cy="171.17" r="1.95" fill="url(#gr)"/><circle cx="629.72" cy="171.99" r="1.95" fill="url(#gr)"/><circle cx="631.16" cy="172.53" r="1.95" fill="url(#gr)"/><circle cx="632.61" cy="172.01" r="1.95" fill="url(#gr)"/><circle cx="634.05" cy="171.45" r="1.95" fill="url(#gr)"/><circle cx="635.5" cy="172.03" r="1.95" fill="url(#gr)"/><circle cx="636.94" cy="172.5" r="1.95" fill="url(#gr)"/><circle cx="638.38" cy="172.04" r="1.95" fill="url(#gr)"/><circle cx="639.83" cy="171.56" r="1.95" fill="url(#gr)"/><circle cx="641.27" cy="172.04" r="1.95" fill="url(#gr)"/><circle cx="642.72" cy="172.49" r="1.95" fill="url(#gr)"/><circle cx="644.16" cy="172.05" r="1.95" fill="url(#gr)"/><circle cx="645.61" cy="171.6" r="1.95" fill="url(#gr)"/><circle cx="647.06" cy="172.05" r="1.95" fill="url(#gr)"/><circle cx="648.5" cy="172.48" r="1.95" fill="url(#gr)"/><circle cx="649.95" cy="172.05" r="1.95" fill="url(#gr)"/><circle cx="651.39" cy="171.61" r="1.95" fill="url(#gr)"/><circle cx="652.84" cy="172.05" r="1.95" fill="url(#gr)"/><circle cx="654.28" cy="172.48" r="1.95" fill="url(#gr)"/><circle cx="655.73" cy="172.05" r="1.95" fill="url(#gr)"/><circle cx="657.17" cy="171.62" r="1.95" fill="url(#gr)"/><circle cx="658.62" cy="172.05" r="1.95" fill="url(#gr)"/><circle cx="660.06" cy="172.48" r="1.95" fill="url(#gr)"/><circle cx="661.5" cy="172.05" r="1.95" fill="url(#gr)"/><circle cx="662.95" cy="171.62" r="1.95" fill="url(#gr)"/><circle cx="664.39" cy="172.05" r="1.95" fill="url(#gr)"/><circle cx="665.84" cy="172.48" r="1.95" fill="url(#gr)"/><circle cx="667.28" cy="172.05" r="1.95" fill="url(#gr)"/><circle cx="668.73" cy="171.62" r="1.95" fill="url(#gr)"/><circle cx="670.17" cy="172.05" r="1.95" fill="url(#gr)"/><circle cx="671.62" cy="172.48" r="1.95" fill="url(#gr)"/><circle cx="673.07" cy="172.05" r="1.95" fill="url(#gr)"/><circle cx="674.51" cy="171.62" r="1.95" fill="url(#gr)"/><circle cx="675.96" cy="172.05" r="1.95" fill="url(#gr)"/><circle cx="677.4" cy="172.48" r="1.95" fill="url(#gr)"/><circle cx="678.85" cy="172.05" r="1.95" fill="url(#gr)"/><circle cx="680.29" cy="171.62" r="1.95" fill="url(#gr)"/><circle cx="681.74" cy="172.05" r="1.95" fill="url(#gr)"/><circle cx="683.18" cy="172.48" r="1.95" fill="url(#gr)"/><circle cx="684.62" cy="172.05" r="1.95" fill="url(#gr)"/><polyline fill="none" stroke="#e0101c" stroke-width="0.7" points="467.88,242.3 469.32,242.7 470.76,242.29 472.21,241.87 473.65,242.29 475.1,242.65 476.55,242.28 477.99,241.87 479.44,242.27 480.88,242.52 482.32,242.26 483.77,241.87 485.21,242.24 486.66,242.23 488.11,242.21 489.55,241.87 491,242.17 492.44,241.68 493.88,242.11 495.33,241.87 496.77,242.05 498.22,240.8 499.66,241.97 501.11,241.87 502.56,241.88 504,239.64 505.44,241.79 506.89,241.87 508.33,241.69 509.78,238.39 511.23,241.6 512.67,241.87 514.12,241.53 515.56,237.38 517,241.47 518.45,241.87 519.89,241.43 521.34,236.97 522.78,241.43 524.23,241.86 525.67,241.45 527.12,237.32 528.57,241.5 530.01,241.81 531.46,241.56 532.9,238.34 534.35,241.59 535.79,241.61 537.24,241.66 538.68,239.72 540.12,241.37 541.57,240.84 543.01,241.51 544.46,241.14 545.9,240.39 547.35,238.52 548.79,241.01 550.24,242.35 551.68,238.88 553.13,232.86 554.58,240.41 556.02,243.26 557.47,237.62 558.91,221.92 560.36,240.02 561.8,243.9 563.25,237.13 564.69,205.72 566.13,239.42 567.58,244.31 569.02,237.56 570.47,188.91 571.91,238.78 573.36,244.51 574.8,238.17 576.25,180.67 577.7,238.17 579.14,244.51 580.59,238.78 582.03,188.91 583.48,237.56 584.92,244.31 586.37,239.42 587.81,205.72 589.25,237.13 590.7,243.9 592.14,240.02 593.59,221.92 595.03,237.62 596.48,243.26 597.92,240.41 599.37,232.86 600.82,238.88 602.26,242.35 603.71,241.01 605.15,238.52 606.6,240.39 608.04,241.14 609.49,241.51 610.93,240.84 612.38,241.37 613.82,239.72 615.26,241.66 616.71,241.61 618.15,241.59 619.6,238.34 621.04,241.56 622.49,241.81 623.93,241.5 625.38,237.32 626.83,241.45 628.27,241.86 629.72,241.43 631.16,236.97 632.61,241.43 634.05,241.87 635.5,241.47 636.94,237.38 638.38,241.53 639.83,241.87 641.27,241.6 642.72,238.39 644.16,241.69 645.61,241.87 647.06,241.79 648.5,239.64 649.95,241.88 651.39,241.87 652.84,241.97 654.28,240.8 655.73,242.05 657.17,241.87 658.62,242.11 660.06,241.68 661.5,242.17 662.95,241.87 664.39,242.21 665.84,242.23 667.28,242.24 668.73,241.87 670.17,242.26 671.62,242.52 673.07,242.27 674.51,241.87 675.96,242.28 677.4,242.65 678.85,242.29 680.29,241.87 681.74,242.29 683.18,242.7 684.62,242.3"/><circle cx="467.88" cy="242.3" r="1.95" fill="url(#gr)"/><circle cx="469.32" cy="242.7" r="1.95" fill="url(#gr)"/><circle cx="470.76" cy="242.29" r="1.95" fill="url(#gr)"/><circle cx="472.21" cy="241.87" r="1.95" fill="url(#gr)"/><circle cx="473.65" cy="242.29" r="1.95" fill="url(#gr)"/><circle cx="475.1" cy="242.65" r="1.95" fill="url(#gr)"/><circle cx="476.55" cy="242.28" r="1.95" fill="url(#gr)"/><circle cx="477.99" cy="241.87" r="1.95" fill="url(#gr)"/><circle cx="479.44" cy="242.27" r="1.95" fill="url(#gr)"/><circle cx="480.88" cy="242.52" r="1.95" fill="url(#gr)"/><circle cx="482.32" cy="242.26" r="1.95" fill="url(#gr)"/><circle cx="483.77" cy="241.87" r="1.95" fill="url(#gr)"/><circle cx="485.21" cy="242.24" r="1.95" fill="url(#gr)"/><circle cx="486.66" cy="242.23" r="1.95" fill="url(#gr)"/><circle cx="488.11" cy="242.21" r="1.95" fill="url(#gr)"/><circle cx="489.55" cy="241.87" r="1.95" fill="url(#gr)"/><circle cx="491" cy="242.17" r="1.95" fill="url(#gr)"/><circle cx="492.44" cy="241.68" r="1.95" fill="url(#gr)"/><circle cx="493.88" cy="242.11" r="1.95" fill="url(#gr)"/><circle cx="495.33" cy="241.87" r="1.95" fill="url(#gr)"/><circle cx="496.77" cy="242.05" r="1.95" fill="url(#gr)"/><circle cx="498.22" cy="240.8" r="1.95" fill="url(#gr)"/><circle cx="499.66" cy="241.97" r="1.95" fill="url(#gr)"/><circle cx="501.11" cy="241.87" r="1.95" fill="url(#gr)"/><circle cx="502.56" cy="241.88" r="1.95" fill="url(#gr)"/><circle cx="504" cy="239.64" r="1.95" fill="url(#gr)"/><circle cx="505.44" cy="241.79" r="1.95" fill="url(#gr)"/><circle cx="506.89" cy="241.87" r="1.95" fill="url(#gr)"/><circle cx="508.33" cy="241.69" r="1.95" fill="url(#gr)"/><circle cx="509.78" cy="238.39" r="1.95" fill="url(#gr)"/><circle cx="511.23" cy="241.6" r="1.95" fill="url(#gr)"/><circle cx="512.67" cy="241.87" r="1.95" fill="url(#gr)"/><circle cx="514.12" cy="241.53" r="1.95" fill="url(#gr)"/><circle cx="515.56" cy="237.38" r="1.95" fill="url(#gr)"/><circle cx="517" cy="241.47" r="1.95" fill="url(#gr)"/><circle cx="518.45" cy="241.87" r="1.95" fill="url(#gr)"/><circle cx="519.89" cy="241.43" r="1.95" fill="url(#gr)"/><circle cx="521.34" cy="236.97" r="1.95" fill="url(#gr)"/><circle cx="522.78" cy="241.43" r="1.95" fill="url(#gr)"/><circle cx="524.23" cy="241.86" r="1.95" fill="url(#gr)"/><circle cx="525.67" cy="241.45" r="1.95" fill="url(#gr)"/><circle cx="527.12" cy="237.32" r="1.95" fill="url(#gr)"/><circle cx="528.57" cy="241.5" r="1.95" fill="url(#gr)"/><circle cx="530.01" cy="241.81" r="1.95" fill="url(#gr)"/><circle cx="531.46" cy="241.56" r="1.95" fill="url(#gr)"/><circle cx="532.9" cy="238.34" r="1.95" fill="url(#gr)"/><circle cx="534.35" cy="241.59" r="1.95" fill="url(#gr)"/><circle cx="535.79" cy="241.61" r="1.95" fill="url(#gr)"/><circle cx="537.24" cy="241.66" r="1.95" fill="url(#gr)"/><circle cx="538.68" cy="239.72" r="1.95" fill="url(#gr)"/><circle cx="540.12" cy="241.37" r="1.95" fill="url(#gr)"/><circle cx="541.57" cy="240.84" r="1.95" fill="url(#gr)"/><circle cx="543.01" cy="241.51" r="1.95" fill="url(#gr)"/><circle cx="544.46" cy="241.14" r="1.95" fill="url(#gr)"/><circle cx="545.9" cy="240.39" r="1.95" fill="url(#gr)"/><circle cx="547.35" cy="238.52" r="1.95" fill="url(#gr)"/><circle cx="548.79" cy="241.01" r="1.95" fill="url(#gr)"/><circle cx="550.24" cy="242.35" r="1.95" fill="url(#gr)"/><circle cx="551.68" cy="238.88" r="1.95" fill="url(#gr)"/><circle cx="553.13" cy="232.86" r="1.95" fill="url(#gr)"/><circle cx="554.58" cy="240.41" r="1.95" fill="url(#gr)"/><circle cx="556.02" cy="243.26" r="1.95" fill="url(#gr)"/><circle cx="557.47" cy="237.62" r="1.95" fill="url(#gr)"/><circle cx="558.91" cy="221.92" r="1.95" fill="url(#gr)"/><circle cx="560.36" cy="240.02" r="1.95" fill="url(#gr)"/><circle cx="561.8" cy="243.9" r="1.95" fill="url(#gr)"/><circle cx="563.25" cy="237.13" r="1.95" fill="url(#gr)"/><circle cx="564.69" cy="205.72" r="1.95" fill="url(#gr)"/><circle cx="566.13" cy="239.42" r="1.95" fill="url(#gr)"/><circle cx="567.58" cy="244.31" r="1.95" fill="url(#gr)"/><circle cx="569.02" cy="237.56" r="1.95" fill="url(#gr)"/><circle cx="570.47" cy="188.91" r="1.95" fill="url(#gr)"/><circle cx="571.91" cy="238.78" r="1.95" fill="url(#gr)"/><circle cx="573.36" cy="244.51" r="1.95" fill="url(#gr)"/><circle cx="574.8" cy="238.17" r="1.95" fill="url(#gr)"/><circle cx="576.25" cy="180.67" r="1.95" fill="url(#gr)"/><circle cx="577.7" cy="238.17" r="1.95" fill="url(#gr)"/><circle cx="579.14" cy="244.51" r="1.95" fill="url(#gr)"/><circle cx="580.59" cy="238.78" r="1.95" fill="url(#gr)"/><circle cx="582.03" cy="188.91" r="1.95" fill="url(#gr)"/><circle cx="583.48" cy="237.56" r="1.95" fill="url(#gr)"/><circle cx="584.92" cy="244.31" r="1.95" fill="url(#gr)"/><circle cx="586.37" cy="239.42" r="1.95" fill="url(#gr)"/><circle cx="587.81" cy="205.72" r="1.95" fill="url(#gr)"/><circle cx="589.25" cy="237.13" r="1.95" fill="url(#gr)"/><circle cx="590.7" cy="243.9" r="1.95" fill="url(#gr)"/><circle cx="592.14" cy="240.02" r="1.95" fill="url(#gr)"/><circle cx="593.59" cy="221.92" r="1.95" fill="url(#gr)"/><circle cx="595.03" cy="237.62" r="1.95" fill="url(#gr)"/><circle cx="596.48" cy="243.26" r="1.95" fill="url(#gr)"/><circle cx="597.92" cy="240.41" r="1.95" fill="url(#gr)"/><circle cx="599.37" cy="232.86" r="1.95" fill="url(#gr)"/><circle cx="600.82" cy="238.88" r="1.95" fill="url(#gr)"/><circle cx="602.26" cy="242.35" r="1.95" fill="url(#gr)"/><circle cx="603.71" cy="241.01" r="1.95" fill="url(#gr)"/><circle cx="605.15" cy="238.52" r="1.95" fill="url(#gr)"/><circle cx="606.6" cy="240.39" r="1.95" fill="url(#gr)"/><circle cx="608.04" cy="241.14" r="1.95" fill="url(#gr)"/><circle cx="609.49" cy="241.51" r="1.95" fill="url(#gr)"/><circle cx="610.93" cy="240.84" r="1.95" fill="url(#gr)"/><circle cx="612.38" cy="241.37" r="1.95" fill="url(#gr)"/><circle cx="613.82" cy="239.72" r="1.95" fill="url(#gr)"/><circle cx="615.26" cy="241.66" r="1.95" fill="url(#gr)"/><circle cx="616.71" cy="241.61" r="1.95" fill="url(#gr)"/><circle cx="618.15" cy="241.59" r="1.95" fill="url(#gr)"/><circle cx="619.6" cy="238.34" r="1.95" fill="url(#gr)"/><circle cx="621.04" cy="241.56" r="1.95" fill="url(#gr)"/><circle cx="622.49" cy="241.81" r="1.95" fill="url(#gr)"/><circle cx="623.93" cy="241.5" r="1.95" fill="url(#gr)"/><circle cx="625.38" cy="237.32" r="1.95" fill="url(#gr)"/><circle cx="626.83" cy="241.45" r="1.95" fill="url(#gr)"/><circle cx="628.27" cy="241.86" r="1.95" fill="url(#gr)"/><circle cx="629.72" cy="241.43" r="1.95" fill="url(#gr)"/><circle cx="631.16" cy="236.97" r="1.95" fill="url(#gr)"/><circle cx="632.61" cy="241.43" r="1.95" fill="url(#gr)"/><circle cx="634.05" cy="241.87" r="1.95" fill="url(#gr)"/><circle cx="635.5" cy="241.47" r="1.95" fill="url(#gr)"/><circle cx="636.94" cy="237.38" r="1.95" fill="url(#gr)"/><circle cx="638.38" cy="241.53" r="1.95" fill="url(#gr)"/><circle cx="639.83" cy="241.87" r="1.95" fill="url(#gr)"/><circle cx="641.27" cy="241.6" r="1.95" fill="url(#gr)"/><circle cx="642.72" cy="238.39" r="1.95" fill="url(#gr)"/><circle cx="644.16" cy="241.69" r="1.95" fill="url(#gr)"/><circle cx="645.61" cy="241.87" r="1.95" fill="url(#gr)"/><circle cx="647.06" cy="241.79" r="1.95" fill="url(#gr)"/><circle cx="648.5" cy="239.64" r="1.95" fill="url(#gr)"/><circle cx="649.95" cy="241.88" r="1.95" fill="url(#gr)"/><circle cx="651.39" cy="241.87" r="1.95" fill="url(#gr)"/><circle cx="652.84" cy="241.97" r="1.95" fill="url(#gr)"/><circle cx="654.28" cy="240.8" r="1.95" fill="url(#gr)"/><circle cx="655.73" cy="242.05" r="1.95" fill="url(#gr)"/><circle cx="657.17" cy="241.87" r="1.95" fill="url(#gr)"/><circle cx="658.62" cy="242.11" r="1.95" fill="url(#gr)"/><circle cx="660.06" cy="241.68" r="1.95" fill="url(#gr)"/><circle cx="661.5" cy="242.17" r="1.95" fill="url(#gr)"/><circle cx="662.95" cy="241.87" r="1.95" fill="url(#gr)"/><circle cx="664.39" cy="242.21" r="1.95" fill="url(#gr)"/><circle cx="665.84" cy="242.23" r="1.95" fill="url(#gr)"/><circle cx="667.28" cy="242.24" r="1.95" fill="url(#gr)"/><circle cx="668.73" cy="241.87" r="1.95" fill="url(#gr)"/><circle cx="670.17" cy="242.26" r="1.95" fill="url(#gr)"/><circle cx="671.62" cy="242.52" r="1.95" fill="url(#gr)"/><circle cx="673.07" cy="242.27" r="1.95" fill="url(#gr)"/><circle cx="674.51" cy="241.87" r="1.95" fill="url(#gr)"/><circle cx="675.96" cy="242.28" r="1.95" fill="url(#gr)"/><circle cx="677.4" cy="242.65" r="1.95" fill="url(#gr)"/><circle cx="678.85" cy="242.29" r="1.95" fill="url(#gr)"/><circle cx="680.29" cy="241.87" r="1.95" fill="url(#gr)"/><circle cx="681.74" cy="242.29" r="1.95" fill="url(#gr)"/><circle cx="683.18" cy="242.7" r="1.95" fill="url(#gr)"/><circle cx="684.62" cy="242.3" r="1.95" fill="url(#gr)"/><polyline fill="none" stroke="#e0101c" stroke-width="0.7" points="467.88,312.55 469.32,312.98 470.76,312.55 472.21,312.12 473.65,312.55 475.1,312.98 476.55,312.55 477.99,312.12 479.44,312.55 480.88,312.98 482.32,312.55 483.77,312.12 485.21,312.55 486.66,312.98 488.11,312.55 489.55,312.12 491,312.55 492.44,312.98 493.88,312.55 495.33,312.12 496.77,312.55 498.22,312.98 499.66,312.55 501.11,312.1 502.56,312.55 504,312.98 505.44,312.54 506.89,312.01 508.33,312.53 509.78,312.99 511.23,312.5 512.67,311.67 514.12,312.46 515.56,313 517,312.39 518.45,310.72 519.89,312.28 521.34,313.03 522.78,312.15 524.23,308.89 525.67,311.98 527.12,313.08 528.57,311.8 530.01,306.59 531.46,311.64 532.9,313.17 534.35,311.46 535.79,305.04 537.24,311.39 538.68,313.32 540.12,311.03 541.57,305.22 543.01,311.18 544.46,313.53 545.9,310.12 547.35,306.21 548.79,310.85 550.24,313.8 551.68,308.83 553.13,304.73 554.58,310.46 556.02,314.1 557.47,307.75 558.91,296.34 560.36,310.21 561.8,314.41 563.25,307.35 564.69,279.26 566.13,309.66 567.58,314.66 569.02,307.81 570.47,259.78 571.91,309.03 573.36,314.8 574.8,308.42 576.25,250.91 577.7,308.42 579.14,314.8 580.59,309.03 582.03,259.78 583.48,307.81 584.92,314.66 586.37,309.66 587.81,279.26 589.25,307.35 590.7,314.41 592.14,310.21 593.59,296.34 595.03,307.75 596.48,314.1 597.92,310.46 599.37,304.73 600.82,308.83 602.26,313.8 603.71,310.85 605.15,306.21 606.6,310.12 608.04,313.53 609.49,311.18 610.93,305.22 612.38,311.03 613.82,313.32 615.26,311.39 616.71,305.04 618.15,311.46 619.6,313.17 621.04,311.64 622.49,306.59 623.93,311.8 625.38,313.08 626.83,311.98 628.27,308.89 629.72,312.15 631.16,313.03 632.61,312.28 634.05,310.72 635.5,312.39 636.94,313 638.38,312.46 639.83,311.67 641.27,312.5 642.72,312.99 644.16,312.53 645.61,312.01 647.06,312.54 648.5,312.98 649.95,312.55 651.39,312.1 652.84,312.55 654.28,312.98 655.73,312.55 657.17,312.12 658.62,312.55 660.06,312.98 661.5,312.55 662.95,312.12 664.39,312.55 665.84,312.98 667.28,312.55 668.73,312.12 670.17,312.55 671.62,312.98 673.07,312.55 674.51,312.12 675.96,312.55 677.4,312.98 678.85,312.55 680.29,312.12 681.74,312.55 683.18,312.98 684.62,312.55"/><circle cx="467.88" cy="312.55" r="1.95" fill="url(#gr)"/><circle cx="469.32" cy="312.98" r="1.95" fill="url(#gr)"/><circle cx="470.76" cy="312.55" r="1.95" fill="url(#gr)"/><circle cx="472.21" cy="312.12" r="1.95" fill="url(#gr)"/><circle cx="473.65" cy="312.55" r="1.95" fill="url(#gr)"/><circle cx="475.1" cy="312.98" r="1.95" fill="url(#gr)"/><circle cx="476.55" cy="312.55" r="1.95" fill="url(#gr)"/><circle cx="477.99" cy="312.12" r="1.95" fill="url(#gr)"/><circle cx="479.44" cy="312.55" r="1.95" fill="url(#gr)"/><circle cx="480.88" cy="312.98" r="1.95" fill="url(#gr)"/><circle cx="482.32" cy="312.55" r="1.95" fill="url(#gr)"/><circle cx="483.77" cy="312.12" r="1.95" fill="url(#gr)"/><circle cx="485.21" cy="312.55" r="1.95" fill="url(#gr)"/><circle cx="486.66" cy="312.98" r="1.95" fill="url(#gr)"/><circle cx="488.11" cy="312.55" r="1.95" fill="url(#gr)"/><circle cx="489.55" cy="312.12" r="1.95" fill="url(#gr)"/><circle cx="491" cy="312.55" r="1.95" fill="url(#gr)"/><circle cx="492.44" cy="312.98" r="1.95" fill="url(#gr)"/><circle cx="493.88" cy="312.55" r="1.95" fill="url(#gr)"/><circle cx="495.33" cy="312.12" r="1.95" fill="url(#gr)"/><circle cx="496.77" cy="312.55" r="1.95" fill="url(#gr)"/><circle cx="498.22" cy="312.98" r="1.95" fill="url(#gr)"/><circle cx="499.66" cy="312.55" r="1.95" fill="url(#gr)"/><circle cx="501.11" cy="312.1" r="1.95" fill="url(#gr)"/><circle cx="502.56" cy="312.55" r="1.95" fill="url(#gr)"/><circle cx="504" cy="312.98" r="1.95" fill="url(#gr)"/><circle cx="505.44" cy="312.54" r="1.95" fill="url(#gr)"/><circle cx="506.89" cy="312.01" r="1.95" fill="url(#gr)"/><circle cx="508.33" cy="312.53" r="1.95" fill="url(#gr)"/><circle cx="509.78" cy="312.99" r="1.95" fill="url(#gr)"/><circle cx="511.23" cy="312.5" r="1.95" fill="url(#gr)"/><circle cx="512.67" cy="311.67" r="1.95" fill="url(#gr)"/><circle cx="514.12" cy="312.46" r="1.95" fill="url(#gr)"/><circle cx="515.56" cy="313" r="1.95" fill="url(#gr)"/><circle cx="517" cy="312.39" r="1.95" fill="url(#gr)"/><circle cx="518.45" cy="310.72" r="1.95" fill="url(#gr)"/><circle cx="519.89" cy="312.28" r="1.95" fill="url(#gr)"/><circle cx="521.34" cy="313.03" r="1.95" fill="url(#gr)"/><circle cx="522.78" cy="312.15" r="1.95" fill="url(#gr)"/><circle cx="524.23" cy="308.89" r="1.95" fill="url(#gr)"/><circle cx="525.67" cy="311.98" r="1.95" fill="url(#gr)"/><circle cx="527.12" cy="313.08" r="1.95" fill="url(#gr)"/><circle cx="528.57" cy="311.8" r="1.95" fill="url(#gr)"/><circle cx="530.01" cy="306.59" r="1.95" fill="url(#gr)"/><circle cx="531.46" cy="311.64" r="1.95" fill="url(#gr)"/><circle cx="532.9" cy="313.17" r="1.95" fill="url(#gr)"/><circle cx="534.35" cy="311.46" r="1.95" fill="url(#gr)"/><circle cx="535.79" cy="305.04" r="1.95" fill="url(#gr)"/><circle cx="537.24" cy="311.39" r="1.95" fill="url(#gr)"/><circle cx="538.68" cy="313.32" r="1.95" fill="url(#gr)"/><circle cx="540.12" cy="311.03" r="1.95" fill="url(#gr)"/><circle cx="541.57" cy="305.22" r="1.95" fill="url(#gr)"/><circle cx="543.01" cy="311.18" r="1.95" fill="url(#gr)"/><circle cx="544.46" cy="313.53" r="1.95" fill="url(#gr)"/><circle cx="545.9" cy="310.12" r="1.95" fill="url(#gr)"/><circle cx="547.35" cy="306.21" r="1.95" fill="url(#gr)"/><circle cx="548.79" cy="310.85" r="1.95" fill="url(#gr)"/><circle cx="550.24" cy="313.8" r="1.95" fill="url(#gr)"/><circle cx="551.68" cy="308.83" r="1.95" fill="url(#gr)"/><circle cx="553.13" cy="304.73" r="1.95" fill="url(#gr)"/><circle cx="554.58" cy="310.46" r="1.95" fill="url(#gr)"/><circle cx="556.02" cy="314.1" r="1.95" fill="url(#gr)"/><circle cx="557.47" cy="307.75" r="1.95" fill="url(#gr)"/><circle cx="558.91" cy="296.34" r="1.95" fill="url(#gr)"/><circle cx="560.36" cy="310.21" r="1.95" fill="url(#gr)"/><circle cx="561.8" cy="314.41" r="1.95" fill="url(#gr)"/><circle cx="563.25" cy="307.35" r="1.95" fill="url(#gr)"/><circle cx="564.69" cy="279.26" r="1.95" fill="url(#gr)"/><circle cx="566.13" cy="309.66" r="1.95" fill="url(#gr)"/><circle cx="567.58" cy="314.66" r="1.95" fill="url(#gr)"/><circle cx="569.02" cy="307.81" r="1.95" fill="url(#gr)"/><circle cx="570.47" cy="259.78" r="1.95" fill="url(#gr)"/><circle cx="571.91" cy="309.03" r="1.95" fill="url(#gr)"/><circle cx="573.36" cy="314.8" r="1.95" fill="url(#gr)"/><circle cx="574.8" cy="308.42" r="1.95" fill="url(#gr)"/><circle cx="576.25" cy="250.91" r="1.95" fill="url(#gr)"/><circle cx="577.7" cy="308.42" r="1.95" fill="url(#gr)"/><circle cx="579.14" cy="314.8" r="1.95" fill="url(#gr)"/><circle cx="580.59" cy="309.03" r="1.95" fill="url(#gr)"/><circle cx="582.03" cy="259.78" r="1.95" fill="url(#gr)"/><circle cx="583.48" cy="307.81" r="1.95" fill="url(#gr)"/><circle cx="584.92" cy="314.66" r="1.95" fill="url(#gr)"/><circle cx="586.37" cy="309.66" r="1.95" fill="url(#gr)"/><circle cx="587.81" cy="279.26" r="1.95" fill="url(#gr)"/><circle cx="589.25" cy="307.35" r="1.95" fill="url(#gr)"/><circle cx="590.7" cy="314.41" r="1.95" fill="url(#gr)"/><circle cx="592.14" cy="310.21" r="1.95" fill="url(#gr)"/><circle cx="593.59" cy="296.34" r="1.95" fill="url(#gr)"/><circle cx="595.03" cy="307.75" r="1.95" fill="url(#gr)"/><circle cx="596.48" cy="314.1" r="1.95" fill="url(#gr)"/><circle cx="597.92" cy="310.46" r="1.95" fill="url(#gr)"/><circle cx="599.37" cy="304.73" r="1.95" fill="url(#gr)"/><circle cx="600.82" cy="308.83" r="1.95" fill="url(#gr)"/><circle cx="602.26" cy="313.8" r="1.95" fill="url(#gr)"/><circle cx="603.71" cy="310.85" r="1.95" fill="url(#gr)"/><circle cx="605.15" cy="306.21" r="1.95" fill="url(#gr)"/><circle cx="606.6" cy="310.12" r="1.95" fill="url(#gr)"/><circle cx="608.04" cy="313.53" r="1.95" fill="url(#gr)"/><circle cx="609.49" cy="311.18" r="1.95" fill="url(#gr)"/><circle cx="610.93" cy="305.22" r="1.95" fill="url(#gr)"/><circle cx="612.38" cy="311.03" r="1.95" fill="url(#gr)"/><circle cx="613.82" cy="313.32" r="1.95" fill="url(#gr)"/><circle cx="615.26" cy="311.39" r="1.95" fill="url(#gr)"/><circle cx="616.71" cy="305.04" r="1.95" fill="url(#gr)"/><circle cx="618.15" cy="311.46" r="1.95" fill="url(#gr)"/><circle cx="619.6" cy="313.17" r="1.95" fill="url(#gr)"/><circle cx="621.04" cy="311.64" r="1.95" fill="url(#gr)"/><circle cx="622.49" cy="306.59" r="1.95" fill="url(#gr)"/><circle cx="623.93" cy="311.8" r="1.95" fill="url(#gr)"/><circle cx="625.38" cy="313.08" r="1.95" fill="url(#gr)"/><circle cx="626.83" cy="311.98" r="1.95" fill="url(#gr)"/><circle cx="628.27" cy="308.89" r="1.95" fill="url(#gr)"/><circle cx="629.72" cy="312.15" r="1.95" fill="url(#gr)"/><circle cx="631.16" cy="313.03" r="1.95" fill="url(#gr)"/><circle cx="632.61" cy="312.28" r="1.95" fill="url(#gr)"/><circle cx="634.05" cy="310.72" r="1.95" fill="url(#gr)"/><circle cx="635.5" cy="312.39" r="1.95" fill="url(#gr)"/><circle cx="636.94" cy="313" r="1.95" fill="url(#gr)"/><circle cx="638.38" cy="312.46" r="1.95" fill="url(#gr)"/><circle cx="639.83" cy="311.67" r="1.95" fill="url(#gr)"/><circle cx="641.27" cy="312.5" r="1.95" fill="url(#gr)"/><circle cx="642.72" cy="312.99" r="1.95" fill="url(#gr)"/><circle cx="644.16" cy="312.53" r="1.95" fill="url(#gr)"/><circle cx="645.61" cy="312.01" r="1.95" fill="url(#gr)"/><circle cx="647.06" cy="312.54" r="1.95" fill="url(#gr)"/><circle cx="648.5" cy="312.98" r="1.95" fill="url(#gr)"/><circle cx="649.95" cy="312.55" r="1.95" fill="url(#gr)"/><circle cx="651.39" cy="312.1" r="1.95" fill="url(#gr)"/><circle cx="652.84" cy="312.55" r="1.95" fill="url(#gr)"/><circle cx="654.28" cy="312.98" r="1.95" fill="url(#gr)"/><circle cx="655.73" cy="312.55" r="1.95" fill="url(#gr)"/><circle cx="657.17" cy="312.12" r="1.95" fill="url(#gr)"/><circle cx="658.62" cy="312.55" r="1.95" fill="url(#gr)"/><circle cx="660.06" cy="312.98" r="1.95" fill="url(#gr)"/><circle cx="661.5" cy="312.55" r="1.95" fill="url(#gr)"/><circle cx="662.95" cy="312.12" r="1.95" fill="url(#gr)"/><circle cx="664.39" cy="312.55" r="1.95" fill="url(#gr)"/><circle cx="665.84" cy="312.98" r="1.95" fill="url(#gr)"/><circle cx="667.28" cy="312.55" r="1.95" fill="url(#gr)"/><circle cx="668.73" cy="312.12" r="1.95" fill="url(#gr)"/><circle cx="670.17" cy="312.55" r="1.95" fill="url(#gr)"/><circle cx="671.62" cy="312.98" r="1.95" fill="url(#gr)"/><circle cx="673.07" cy="312.55" r="1.95" fill="url(#gr)"/><circle cx="674.51" cy="312.12" r="1.95" fill="url(#gr)"/><circle cx="675.96" cy="312.55" r="1.95" fill="url(#gr)"/><circle cx="677.4" cy="312.98" r="1.95" fill="url(#gr)"/><circle cx="678.85" cy="312.55" r="1.95" fill="url(#gr)"/><circle cx="680.29" cy="312.12" r="1.95" fill="url(#gr)"/><circle cx="681.74" cy="312.55" r="1.95" fill="url(#gr)"/><circle cx="683.18" cy="312.98" r="1.95" fill="url(#gr)"/><circle cx="684.62" cy="312.55" r="1.95" fill="url(#gr)"/><polyline fill="none" stroke="#e0101c" stroke-width="0.7" points="467.88,382.8 469.32,383.23 470.76,382.8 472.21,382.37 473.65,382.8 475.1,383.23 476.55,382.8 477.99,382.36 479.44,382.8 480.88,383.23 482.32,382.8 483.77,382.35 485.21,382.8 486.66,383.23 488.11,382.8 489.55,382.32 491,382.8 492.44,383.23 493.88,382.8 495.33,382.28 496.77,382.8 498.22,383.23 499.66,382.8 501.11,382.19 502.56,382.8 504,383.23 505.44,382.8 506.89,382.04 508.33,382.79 509.78,383.24 511.23,382.79 512.67,381.76 514.12,382.78 515.56,383.25 517,382.77 518.45,381.28 519.89,382.74 521.34,383.28 522.78,382.71 524.23,380.46 525.67,382.66 527.12,383.33 528.57,382.59 530.01,379.11 531.46,382.48 532.9,383.42 534.35,382.34 535.79,376.96 537.24,382.16 538.68,383.57 540.12,381.88 541.57,373.66 543.01,381.69 544.46,383.78 545.9,381.04 547.35,368.78 548.79,381.15 550.24,384.05 551.68,379.74 553.13,361.92 554.58,380.5 556.02,384.35 557.47,378.23 558.91,352.83 560.36,379.65 561.8,384.66 563.25,377 564.69,341.74 566.13,378.38 567.58,384.91 569.02,376.53 570.47,329.86 571.91,377.21 573.36,385.05 574.8,376.58 576.25,321.17 577.7,376.58 579.14,385.05 580.59,377.21 582.03,329.86 583.48,376.53 584.92,384.91 586.37,378.38 587.81,341.74 589.25,377 590.7,384.66 592.14,379.65 593.59,352.83 595.03,378.23 596.48,384.35 597.92,380.5 599.37,361.92 600.82,379.74 602.26,384.05 603.71,381.15 605.15,368.78 606.6,381.04 608.04,383.78 609.49,381.69 610.93,373.66 612.38,381.88 613.82,383.57 615.26,382.16 616.71,376.96 618.15,382.34 619.6,383.42 621.04,382.48 622.49,379.11 623.93,382.59 625.38,383.33 626.83,382.66 628.27,380.46 629.72,382.71 631.16,383.28 632.61,382.74 634.05,381.28 635.5,382.77 636.94,383.25 638.38,382.78 639.83,381.76 641.27,382.79 642.72,383.24 644.16,382.79 645.61,382.04 647.06,382.8 648.5,383.23 649.95,382.8 651.39,382.19 652.84,382.8 654.28,383.23 655.73,382.8 657.17,382.28 658.62,382.8 660.06,383.23 661.5,382.8 662.95,382.32 664.39,382.8 665.84,383.23 667.28,382.8 668.73,382.35 670.17,382.8 671.62,383.23 673.07,382.8 674.51,382.36 675.96,382.8 677.4,383.23 678.85,382.8 680.29,382.37 681.74,382.8 683.18,383.23 684.62,382.8"/><circle cx="467.88" cy="382.8" r="1.95" fill="url(#gr)"/><circle cx="469.32" cy="383.23" r="1.95" fill="url(#gr)"/><circle cx="470.76" cy="382.8" r="1.95" fill="url(#gr)"/><circle cx="472.21" cy="382.37" r="1.95" fill="url(#gr)"/><circle cx="473.65" cy="382.8" r="1.95" fill="url(#gr)"/><circle cx="475.1" cy="383.23" r="1.95" fill="url(#gr)"/><circle cx="476.55" cy="382.8" r="1.95" fill="url(#gr)"/><circle cx="477.99" cy="382.36" r="1.95" fill="url(#gr)"/><circle cx="479.44" cy="382.8" r="1.95" fill="url(#gr)"/><circle cx="480.88" cy="383.23" r="1.95" fill="url(#gr)"/><circle cx="482.32" cy="382.8" r="1.95" fill="url(#gr)"/><circle cx="483.77" cy="382.35" r="1.95" fill="url(#gr)"/><circle cx="485.21" cy="382.8" r="1.95" fill="url(#gr)"/><circle cx="486.66" cy="383.23" r="1.95" fill="url(#gr)"/><circle cx="488.11" cy="382.8" r="1.95" fill="url(#gr)"/><circle cx="489.55" cy="382.32" r="1.95" fill="url(#gr)"/><circle cx="491" cy="382.8" r="1.95" fill="url(#gr)"/><circle cx="492.44" cy="383.23" r="1.95" fill="url(#gr)"/><circle cx="493.88" cy="382.8" r="1.95" fill="url(#gr)"/><circle cx="495.33" cy="382.28" r="1.95" fill="url(#gr)"/><circle cx="496.77" cy="382.8" r="1.95" fill="url(#gr)"/><circle cx="498.22" cy="383.23" r="1.95" fill="url(#gr)"/><circle cx="499.66" cy="382.8" r="1.95" fill="url(#gr)"/><circle cx="501.11" cy="382.19" r="1.95" fill="url(#gr)"/><circle cx="502.56" cy="382.8" r="1.95" fill="url(#gr)"/><circle cx="504" cy="383.23" r="1.95" fill="url(#gr)"/><circle cx="505.44" cy="382.8" r="1.95" fill="url(#gr)"/><circle cx="506.89" cy="382.04" r="1.95" fill="url(#gr)"/><circle cx="508.33" cy="382.79" r="1.95" fill="url(#gr)"/><circle cx="509.78" cy="383.24" r="1.95" fill="url(#gr)"/><circle cx="511.23" cy="382.79" r="1.95" fill="url(#gr)"/><circle cx="512.67" cy="381.76" r="1.95" fill="url(#gr)"/><circle cx="514.12" cy="382.78" r="1.95" fill="url(#gr)"/><circle cx="515.56" cy="383.25" r="1.95" fill="url(#gr)"/><circle cx="517" cy="382.77" r="1.95" fill="url(#gr)"/><circle cx="518.45" cy="381.28" r="1.95" fill="url(#gr)"/><circle cx="519.89" cy="382.74" r="1.95" fill="url(#gr)"/><circle cx="521.34" cy="383.28" r="1.95" fill="url(#gr)"/><circle cx="522.78" cy="382.71" r="1.95" fill="url(#gr)"/><circle cx="524.23" cy="380.46" r="1.95" fill="url(#gr)"/><circle cx="525.67" cy="382.66" r="1.95" fill="url(#gr)"/><circle cx="527.12" cy="383.33" r="1.95" fill="url(#gr)"/><circle cx="528.57" cy="382.59" r="1.95" fill="url(#gr)"/><circle cx="530.01" cy="379.11" r="1.95" fill="url(#gr)"/><circle cx="531.46" cy="382.48" r="1.95" fill="url(#gr)"/><circle cx="532.9" cy="383.42" r="1.95" fill="url(#gr)"/><circle cx="534.35" cy="382.34" r="1.95" fill="url(#gr)"/><circle cx="535.79" cy="376.96" r="1.95" fill="url(#gr)"/><circle cx="537.24" cy="382.16" r="1.95" fill="url(#gr)"/><circle cx="538.68" cy="383.57" r="1.95" fill="url(#gr)"/><circle cx="540.12" cy="381.88" r="1.95" fill="url(#gr)"/><circle cx="541.57" cy="373.66" r="1.95" fill="url(#gr)"/><circle cx="543.01" cy="381.69" r="1.95" fill="url(#gr)"/><circle cx="544.46" cy="383.78" r="1.95" fill="url(#gr)"/><circle cx="545.9" cy="381.04" r="1.95" fill="url(#gr)"/><circle cx="547.35" cy="368.78" r="1.95" fill="url(#gr)"/><circle cx="548.79" cy="381.15" r="1.95" fill="url(#gr)"/><circle cx="550.24" cy="384.05" r="1.95" fill="url(#gr)"/><circle cx="551.68" cy="379.74" r="1.95" fill="url(#gr)"/><circle cx="553.13" cy="361.92" r="1.95" fill="url(#gr)"/><circle cx="554.58" cy="380.5" r="1.95" fill="url(#gr)"/><circle cx="556.02" cy="384.35" r="1.95" fill="url(#gr)"/><circle cx="557.47" cy="378.23" r="1.95" fill="url(#gr)"/><circle cx="558.91" cy="352.83" r="1.95" fill="url(#gr)"/><circle cx="560.36" cy="379.65" r="1.95" fill="url(#gr)"/><circle cx="561.8" cy="384.66" r="1.95" fill="url(#gr)"/><circle cx="563.25" cy="377" r="1.95" fill="url(#gr)"/><circle cx="564.69" cy="341.74" r="1.95" fill="url(#gr)"/><circle cx="566.13" cy="378.38" r="1.95" fill="url(#gr)"/><circle cx="567.58" cy="384.91" r="1.95" fill="url(#gr)"/><circle cx="569.02" cy="376.53" r="1.95" fill="url(#gr)"/><circle cx="570.47" cy="329.86" r="1.95" fill="url(#gr)"/><circle cx="571.91" cy="377.21" r="1.95" fill="url(#gr)"/><circle cx="573.36" cy="385.05" r="1.95" fill="url(#gr)"/><circle cx="574.8" cy="376.58" r="1.95" fill="url(#gr)"/><circle cx="576.25" cy="321.17" r="1.95" fill="url(#gr)"/><circle cx="577.7" cy="376.58" r="1.95" fill="url(#gr)"/><circle cx="579.14" cy="385.05" r="1.95" fill="url(#gr)"/><circle cx="580.59" cy="377.21" r="1.95" fill="url(#gr)"/><circle cx="582.03" cy="329.86" r="1.95" fill="url(#gr)"/><circle cx="583.48" cy="376.53" r="1.95" fill="url(#gr)"/><circle cx="584.92" cy="384.91" r="1.95" fill="url(#gr)"/><circle cx="586.37" cy="378.38" r="1.95" fill="url(#gr)"/><circle cx="587.81" cy="341.74" r="1.95" fill="url(#gr)"/><circle cx="589.25" cy="377" r="1.95" fill="url(#gr)"/><circle cx="590.7" cy="384.66" r="1.95" fill="url(#gr)"/><circle cx="592.14" cy="379.65" r="1.95" fill="url(#gr)"/><circle cx="593.59" cy="352.83" r="1.95" fill="url(#gr)"/><circle cx="595.03" cy="378.23" r="1.95" fill="url(#gr)"/><circle cx="596.48" cy="384.35" r="1.95" fill="url(#gr)"/><circle cx="597.92" cy="380.5" r="1.95" fill="url(#gr)"/><circle cx="599.37" cy="361.92" r="1.95" fill="url(#gr)"/><circle cx="600.82" cy="379.74" r="1.95" fill="url(#gr)"/><circle cx="602.26" cy="384.05" r="1.95" fill="url(#gr)"/><circle cx="603.71" cy="381.15" r="1.95" fill="url(#gr)"/><circle cx="605.15" cy="368.78" r="1.95" fill="url(#gr)"/><circle cx="606.6" cy="381.04" r="1.95" fill="url(#gr)"/><circle cx="608.04" cy="383.78" r="1.95" fill="url(#gr)"/><circle cx="609.49" cy="381.69" r="1.95" fill="url(#gr)"/><circle cx="610.93" cy="373.66" r="1.95" fill="url(#gr)"/><circle cx="612.38" cy="381.88" r="1.95" fill="url(#gr)"/><circle cx="613.82" cy="383.57" r="1.95" fill="url(#gr)"/><circle cx="615.26" cy="382.16" r="1.95" fill="url(#gr)"/><circle cx="616.71" cy="376.96" r="1.95" fill="url(#gr)"/><circle cx="618.15" cy="382.34" r="1.95" fill="url(#gr)"/><circle cx="619.6" cy="383.42" r="1.95" fill="url(#gr)"/><circle cx="621.04" cy="382.48" r="1.95" fill="url(#gr)"/><circle cx="622.49" cy="379.11" r="1.95" fill="url(#gr)"/><circle cx="623.93" cy="382.59" r="1.95" fill="url(#gr)"/><circle cx="625.38" cy="383.33" r="1.95" fill="url(#gr)"/><circle cx="626.83" cy="382.66" r="1.95" fill="url(#gr)"/><circle cx="628.27" cy="380.46" r="1.95" fill="url(#gr)"/><circle cx="629.72" cy="382.71" r="1.95" fill="url(#gr)"/><circle cx="631.16" cy="383.28" r="1.95" fill="url(#gr)"/><circle cx="632.61" cy="382.74" r="1.95" fill="url(#gr)"/><circle cx="634.05" cy="381.28" r="1.95" fill="url(#gr)"/><circle cx="635.5" cy="382.77" r="1.95" fill="url(#gr)"/><circle cx="636.94" cy="383.25" r="1.95" fill="url(#gr)"/><circle cx="638.38" cy="382.78" r="1.95" fill="url(#gr)"/><circle cx="639.83" cy="381.76" r="1.95" fill="url(#gr)"/><circle cx="641.27" cy="382.79" r="1.95" fill="url(#gr)"/><circle cx="642.72" cy="383.24" r="1.95" fill="url(#gr)"/><circle cx="644.16" cy="382.79" r="1.95" fill="url(#gr)"/><circle cx="645.61" cy="382.04" r="1.95" fill="url(#gr)"/><circle cx="647.06" cy="382.8" r="1.95" fill="url(#gr)"/><circle cx="648.5" cy="383.23" r="1.95" fill="url(#gr)"/><circle cx="649.95" cy="382.8" r="1.95" fill="url(#gr)"/><circle cx="651.39" cy="382.19" r="1.95" fill="url(#gr)"/><circle cx="652.84" cy="382.8" r="1.95" fill="url(#gr)"/><circle cx="654.28" cy="383.23" r="1.95" fill="url(#gr)"/><circle cx="655.73" cy="382.8" r="1.95" fill="url(#gr)"/><circle cx="657.17" cy="382.28" r="1.95" fill="url(#gr)"/><circle cx="658.62" cy="382.8" r="1.95" fill="url(#gr)"/><circle cx="660.06" cy="383.23" r="1.95" fill="url(#gr)"/><circle cx="661.5" cy="382.8" r="1.95" fill="url(#gr)"/><circle cx="662.95" cy="382.32" r="1.95" fill="url(#gr)"/><circle cx="664.39" cy="382.8" r="1.95" fill="url(#gr)"/><circle cx="665.84" cy="383.23" r="1.95" fill="url(#gr)"/><circle cx="667.28" cy="382.8" r="1.95" fill="url(#gr)"/><circle cx="668.73" cy="382.35" r="1.95" fill="url(#gr)"/><circle cx="670.17" cy="382.8" r="1.95" fill="url(#gr)"/><circle cx="671.62" cy="383.23" r="1.95" fill="url(#gr)"/><circle cx="673.07" cy="382.8" r="1.95" fill="url(#gr)"/><circle cx="674.51" cy="382.36" r="1.95" fill="url(#gr)"/><circle cx="675.96" cy="382.8" r="1.95" fill="url(#gr)"/><circle cx="677.4" cy="383.23" r="1.95" fill="url(#gr)"/><circle cx="678.85" cy="382.8" r="1.95" fill="url(#gr)"/><circle cx="680.29" cy="382.37" r="1.95" fill="url(#gr)"/><circle cx="681.74" cy="382.8" r="1.95" fill="url(#gr)"/><circle cx="683.18" cy="383.23" r="1.95" fill="url(#gr)"/><circle cx="684.62" cy="382.8" r="1.95" fill="url(#gr)"/></g><g stroke="#5c5c5c" stroke-width="1" fill="none"><path d="M473.2 388.3V391.8"/><path d="M483.5 388.3V390.3"/><path d="M493.81 388.3V391.8"/><path d="M504.12 388.3V390.3"/><path d="M514.42 388.3V391.8"/><path d="M524.73 388.3V390.3"/><path d="M535.03 388.3V391.8"/><path d="M545.34 388.3V390.3"/><path d="M555.64 388.3V391.8"/><path d="M565.95 388.3V390.3"/><path d="M576.25 388.3V391.8"/><path d="M586.55 388.3V390.3"/><path d="M596.86 388.3V391.8"/><path d="M607.16 388.3V390.3"/><path d="M617.47 388.3V391.8"/><path d="M627.77 388.3V390.3"/><path d="M638.08 388.3V391.8"/><path d="M648.38 388.3V390.3"/><path d="M658.69 388.3V391.8"/><path d="M669 388.3V390.3"/><path d="M679.3 388.3V391.8"/><rect x="473.2" y="36.6" width="206.1" height="351.7" fill="none"/></g><text x="648.7" y="55.1" font-size="9.5" text-anchor="middle">T<tspan font-size="7.6" dy="2.9">+</tspan><tspan dy="-2.9">: 6.5 fs</tspan></text><text x="646.3" y="125.5" font-size="9.5" text-anchor="middle">T<tspan font-size="7.6" dy="2.9">+</tspan><tspan dy="-2.9">: 8 fs</tspan></text><text x="646.3" y="137.3" font-size="9.5" text-anchor="middle">T<tspan font-size="7.6" dy="2.9">−</tspan><tspan dy="-2.9">: 12 fs</tspan></text><text x="646.3" y="195" font-size="9.5" text-anchor="middle">T<tspan font-size="7.6" dy="2.9">+</tspan><tspan dy="-2.9">: 10 fs</tspan></text><text x="646.3" y="206.6" font-size="9.5" text-anchor="middle">T<tspan font-size="7.6" dy="2.9">−</tspan><tspan dy="-2.9">: 10 fs</tspan></text><text x="646.3" y="264.2" font-size="9.5" text-anchor="middle">T<tspan font-size="7.6" dy="2.9">+</tspan><tspan dy="-2.9">: 12 fs</tspan></text><text x="646.3" y="275.8" font-size="9.5" text-anchor="middle">T<tspan font-size="7.6" dy="2.9">−</tspan><tspan dy="-2.9">: 7 fs</tspan></text><text x="646.3" y="333.5" font-size="9.5" text-anchor="middle">T<tspan font-size="7.6" dy="2.9">+</tspan><tspan dy="-2.9">: 13 fs</tspan></text><text x="646.3" y="345.1" font-size="9.5" text-anchor="middle">T<tspan font-size="7.6" dy="2.9">−</tspan><tspan dy="-2.9">: 6 fs</tspan></text><text x="570.3" y="420.4" font-size="9.9" text-anchor="middle" font-weight="normal" >Time delay (fs)</text><text x="0" y="0" font-size="9.75" text-anchor="middle" font-weight="normal" transform="translate(462.0 220.6) rotate(-90)">Normalized PE</text>
</svg></body></html>
